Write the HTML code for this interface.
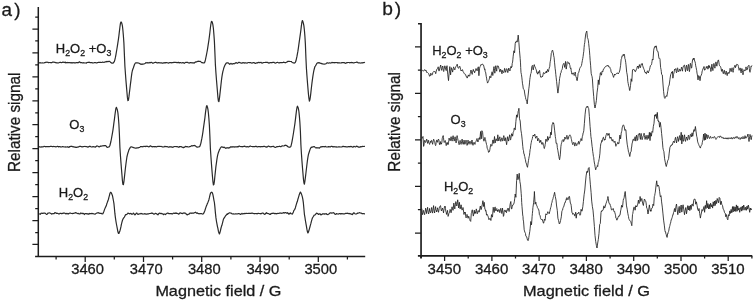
<!DOCTYPE html>
<html><head><meta charset="utf-8"><title>EPR spectra</title>
<style>html,body{margin:0;padding:0;background:#fff}svg{display:block}text{font-family:"Liberation Sans",Arial,sans-serif;fill:#1a1a1a;stroke:#1a1a1a;stroke-width:0.28px}</style></head><body>
<svg width="756" height="302" viewBox="0 0 756 302">
<rect width="756" height="302" fill="#fff"/>
<g stroke="#1c1c1c" stroke-width="1.5" fill="none">
<path d="M38.3 7 V257.2 M35.1 256.5 H365.2"/>
<path d="M32.4 29.0 H38.3 M32.4 52.9 H38.3 M32.4 76.8 H38.3 M32.4 100.8 H38.3 M32.4 124.7 H38.3 M32.4 148.7 H38.3 M32.4 172.6 H38.3 M32.4 196.6 H38.3 M32.4 220.5 H38.3 M32.4 244.4 H38.3 M35.2 17.0 H38.3 M35.2 40.9 H38.3 M35.2 64.9 H38.3 M35.2 88.8 H38.3 M35.2 112.8 H38.3 M35.2 136.7 H38.3 M35.2 160.6 H38.3 M35.2 184.6 H38.3 M35.2 208.5 H38.3 M35.2 232.5 H38.3 " stroke-width="1.25"/>
<path d="M85.2 256.5 V261.9 M143.5 256.5 V261.9 M201.7 256.5 V261.9 M260.0 256.5 V261.9 M318.3 256.5 V261.9 M56.1 256.5 V259.5 M114.3 256.5 V259.5 M172.6 256.5 V259.5 M230.9 256.5 V259.5 M289.2 256.5 V259.5 M347.4 256.5 V259.5 " stroke-width="1.25"/>
<path d="M421.05 22.9 V258.3 M417.9 255.9 H752.3 M418 23.7 H421.4" stroke-width="1.65"/>
<path d="M415 46.8 H421 M415 93.3 H421 M415 139.9 H421 M415 186.4 H421 M415 233.0 H421 M417.9 70.1 H421 M417.9 116.6 H421 M417.9 163.2 H421 M417.9 209.7 H421 " stroke-width="1.25"/>
<path d="M444.6 255.9 V260.9 M491.9 255.9 V260.9 M539.1 255.9 V260.9 M586.4 255.9 V260.9 M633.7 255.9 V260.9 M681.0 255.9 V260.9 M728.2 255.9 V260.9 M421.0 255.9 V258.5 M468.2 255.9 V258.5 M515.5 255.9 V258.5 M562.8 255.9 V258.5 M610.1 255.9 V258.5 M657.3 255.9 V258.5 M704.6 255.9 V258.5 M751.9 255.9 V258.5 " stroke-width="1.25"/>
</g>
<g stroke="#2a2a2a" stroke-width="1.2" fill="none" stroke-linejoin="round">
<path d="M38.9 62.8 L39.4 62.9 L39.9 62.7 L40.4 62.8 L40.9 62.9 L41.4 63.0 L41.9 63.0 L42.4 62.8 L42.9 63.0 L43.4 63.0 L43.9 63.0 L44.4 62.6 L44.9 62.6 L45.4 62.4 L45.9 62.4 L46.4 62.2 L46.9 62.0 L47.4 62.2 L47.9 62.4 L48.4 62.6 L48.9 62.6 L49.4 62.5 L49.9 62.5 L50.4 62.5 L50.9 62.8 L51.4 62.7 L51.9 62.6 L52.4 62.2 L52.9 62.2 L53.4 62.0 L53.9 62.1 L54.4 62.3 L54.9 62.3 L55.4 62.7 L55.9 62.5 L56.4 62.8 L56.9 62.8 L57.4 62.8 L57.9 63.0 L58.4 62.9 L58.9 62.7 L59.4 62.5 L59.9 62.4 L60.4 62.4 L60.9 62.4 L61.4 62.7 L61.9 62.5 L62.4 62.4 L62.9 62.1 L63.4 62.1 L63.9 62.5 L64.4 62.3 L64.9 62.6 L65.4 62.2 L65.9 62.8 L66.4 62.6 L66.9 62.8 L67.4 62.4 L67.9 62.7 L68.4 62.5 L68.9 62.7 L69.4 62.5 L69.9 62.6 L70.4 62.6 L70.9 63.0 L71.4 62.7 L71.9 62.8 L72.4 62.7 L72.9 63.0 L73.4 62.8 L73.9 62.6 L74.4 62.9 L74.9 62.9 L75.4 63.0 L75.9 62.7 L76.4 62.6 L76.9 62.6 L77.4 62.5 L77.9 62.9 L78.4 62.6 L78.9 62.2 L79.4 61.8 L79.9 62.1 L80.4 62.7 L80.9 62.7 L81.4 62.7 L81.9 62.7 L82.4 62.9 L82.9 62.8 L83.4 62.7 L83.9 62.9 L84.4 63.0 L84.9 62.9 L85.4 63.0 L85.9 63.0 L86.4 63.1 L86.9 62.5 L87.4 62.5 L87.9 62.4 L88.4 62.5 L88.9 62.2 L89.4 62.3 L89.9 62.6 L90.4 62.7 L90.9 62.6 L91.4 62.5 L91.9 62.6 L92.4 62.9 L92.9 63.0 L93.4 63.0 L93.9 62.8 L94.4 62.6 L94.9 62.5 L95.4 62.6 L95.9 62.8 L96.4 63.0 L96.9 62.9 L97.4 62.6 L97.9 62.5 L98.4 62.4 L98.9 62.4 L99.4 62.4 L99.9 62.4 L100.4 62.3 L100.9 62.4 L101.4 62.5 L101.9 62.5 L102.4 62.1 L102.9 62.0 L103.4 62.3 L103.9 62.5 L104.4 62.3 L104.9 61.9 L105.4 62.0 L105.9 61.7 L106.4 61.8 L106.9 61.4 L107.4 61.6 L107.9 61.5 L108.4 61.6 L108.9 61.3 L109.4 61.3 L109.9 61.5 L110.4 62.2 L110.9 62.6 L111.4 62.9 L111.9 63.1 L112.4 63.2 L112.9 63.2 L113.4 62.8 L113.9 62.2 L114.4 61.4 L114.9 59.6 L115.4 57.4 L115.9 54.8 L116.4 51.9 L116.9 49.0 L117.4 45.9 L117.9 42.7 L118.4 39.3 L118.9 35.6 L119.4 31.4 L119.9 27.3 L120.4 23.7 L120.9 22.0 L121.4 22.1 L121.9 23.6 L122.4 25.8 L122.9 30.3 L123.4 36.0 L123.9 43.1 L124.4 54.9 L124.9 66.2 L125.4 73.2 L125.9 80.0 L126.4 85.9 L126.9 91.8 L127.4 97.4 L127.9 100.6 L128.4 100.2 L128.9 96.9 L129.4 92.8 L129.9 88.7 L130.4 84.4 L130.9 80.7 L131.4 76.5 L131.9 72.9 L132.4 70.5 L132.9 69.0 L133.4 67.7 L133.9 66.2 L134.4 64.7 L134.9 63.8 L135.4 63.0 L135.9 62.8 L136.4 62.8 L136.9 62.8 L137.4 63.0 L137.9 62.9 L138.4 63.0 L138.9 63.2 L139.4 63.4 L139.9 63.8 L140.4 63.8 L140.9 64.3 L141.4 64.1 L141.9 64.4 L142.4 64.0 L142.9 64.3 L143.4 64.0 L143.9 64.0 L144.4 63.7 L144.9 63.5 L145.4 63.2 L145.9 62.6 L146.4 62.8 L146.9 62.8 L147.4 62.9 L147.9 62.6 L148.4 63.0 L148.9 62.8 L149.4 62.8 L149.9 62.4 L150.4 62.8 L150.9 62.4 L151.4 62.4 L151.9 62.5 L152.4 63.0 L152.9 63.3 L153.4 63.1 L153.9 62.8 L154.4 62.6 L154.9 62.5 L155.4 62.2 L155.9 62.4 L156.4 62.6 L156.9 62.8 L157.4 62.9 L157.9 62.7 L158.4 62.8 L158.9 62.6 L159.4 62.8 L159.9 62.8 L160.4 62.8 L160.9 62.8 L161.4 62.8 L161.9 63.1 L162.4 63.0 L162.9 63.1 L163.4 62.9 L163.9 62.9 L164.4 62.9 L164.9 62.6 L165.4 62.9 L165.9 62.6 L166.4 62.7 L166.9 62.5 L167.4 62.8 L167.9 63.0 L168.4 63.1 L168.9 62.9 L169.4 62.7 L169.9 62.6 L170.4 62.7 L170.9 62.7 L171.4 62.8 L171.9 62.7 L172.4 62.7 L172.9 62.7 L173.4 62.4 L173.9 62.4 L174.4 62.4 L174.9 62.4 L175.4 62.5 L175.9 62.3 L176.4 62.6 L176.9 62.5 L177.4 62.7 L177.9 62.4 L178.4 62.4 L178.9 62.6 L179.4 62.9 L179.9 62.6 L180.4 62.6 L180.9 62.7 L181.4 62.9 L181.9 63.0 L182.4 62.7 L182.9 62.7 L183.4 62.7 L183.9 63.1 L184.4 63.3 L184.9 62.9 L185.4 62.5 L185.9 62.3 L186.4 62.3 L186.9 62.5 L187.4 62.3 L187.9 62.6 L188.4 62.8 L188.9 63.1 L189.4 62.9 L189.9 62.8 L190.4 62.7 L190.9 62.7 L191.4 62.7 L191.9 62.9 L192.4 62.7 L192.9 62.9 L193.4 62.8 L193.9 63.1 L194.4 62.9 L194.9 62.6 L195.4 62.0 L195.9 61.8 L196.4 61.8 L196.9 61.8 L197.4 61.4 L197.9 61.4 L198.4 61.2 L198.9 61.3 L199.4 61.3 L199.9 61.5 L200.4 61.4 L200.9 61.9 L201.4 62.3 L201.9 62.7 L202.4 62.7 L202.9 62.8 L203.4 63.0 L203.9 62.9 L204.4 62.8 L204.9 61.9 L205.4 59.9 L205.9 57.5 L206.4 55.1 L206.9 52.5 L207.4 49.8 L207.9 46.6 L208.4 43.4 L208.9 40.1 L209.4 36.4 L209.9 32.3 L210.4 27.8 L210.9 24.0 L211.4 21.6 L211.9 21.4 L212.4 22.7 L212.9 24.8 L213.4 28.5 L213.9 34.5 L214.4 41.4 L214.9 52.8 L215.4 64.9 L215.9 72.5 L216.4 79.0 L216.9 85.0 L217.4 91.0 L217.9 97.1 L218.4 101.1 L218.9 101.6 L219.4 98.6 L219.9 94.4 L220.4 89.9 L220.9 85.2 L221.4 80.7 L221.9 76.8 L222.4 73.9 L222.9 71.4 L223.4 69.7 L223.9 67.7 L224.4 66.4 L224.9 65.2 L225.4 64.4 L225.9 63.6 L226.4 63.0 L226.9 62.8 L227.4 62.9 L227.9 62.8 L228.4 63.1 L228.9 63.5 L229.4 64.3 L229.9 64.0 L230.4 63.9 L230.9 63.3 L231.4 63.8 L231.9 63.9 L232.4 64.1 L232.9 63.8 L233.4 63.6 L233.9 63.8 L234.4 63.7 L234.9 63.5 L235.4 62.9 L235.9 62.8 L236.4 62.7 L236.9 63.0 L237.4 63.3 L237.9 63.0 L238.4 62.6 L238.9 62.3 L239.4 62.4 L239.9 62.7 L240.4 62.8 L240.9 63.0 L241.4 63.1 L241.9 63.2 L242.4 62.9 L242.9 62.6 L243.4 62.7 L243.9 62.9 L244.4 63.1 L244.9 62.8 L245.4 62.8 L245.9 62.9 L246.4 63.0 L246.9 63.1 L247.4 63.0 L247.9 62.6 L248.4 62.5 L248.9 62.5 L249.4 62.7 L249.9 62.7 L250.4 62.6 L250.9 62.7 L251.4 63.0 L251.9 63.1 L252.4 63.0 L252.9 62.7 L253.4 62.6 L253.9 62.6 L254.4 62.9 L254.9 63.1 L255.4 63.4 L255.9 63.2 L256.4 62.9 L256.9 62.9 L257.4 62.7 L257.9 62.8 L258.4 62.4 L258.9 62.4 L259.4 62.6 L259.9 62.7 L260.4 62.5 L260.9 62.3 L261.4 62.7 L261.9 63.2 L262.4 63.1 L262.9 62.8 L263.4 62.6 L263.9 62.5 L264.4 62.5 L264.9 62.5 L265.4 62.4 L265.9 62.3 L266.4 62.3 L266.9 62.4 L267.4 62.4 L267.9 62.5 L268.4 63.0 L268.9 63.1 L269.4 62.9 L269.9 62.7 L270.4 62.7 L270.9 62.6 L271.4 62.8 L271.9 62.6 L272.4 62.6 L272.9 62.3 L273.4 62.3 L273.9 62.4 L274.4 62.6 L274.9 63.0 L275.4 63.1 L275.9 63.0 L276.4 62.6 L276.9 62.5 L277.4 62.3 L277.9 62.5 L278.4 62.7 L278.9 62.9 L279.4 62.9 L279.9 62.6 L280.4 62.5 L280.9 62.6 L281.4 62.6 L281.9 62.5 L282.4 62.6 L282.9 62.5 L283.4 62.4 L283.9 62.1 L284.4 62.5 L284.9 62.6 L285.4 62.8 L285.9 62.5 L286.4 62.3 L286.9 62.1 L287.4 61.6 L287.9 61.4 L288.4 61.3 L288.9 61.3 L289.4 61.4 L289.9 61.5 L290.4 61.5 L290.9 61.5 L291.4 61.5 L291.9 62.1 L292.4 62.5 L292.9 62.7 L293.4 63.0 L293.9 62.9 L294.4 63.1 L294.9 62.8 L295.4 62.3 L295.9 61.1 L296.4 58.8 L296.9 56.7 L297.4 53.9 L297.9 51.2 L298.4 47.9 L298.9 44.2 L299.4 40.7 L299.9 37.2 L300.4 33.7 L300.9 29.8 L301.4 25.6 L301.9 22.1 L302.4 20.5 L302.9 21.6 L303.4 23.4 L303.9 25.9 L304.4 30.3 L304.9 36.3 L305.4 44.4 L305.9 57.5 L306.4 68.0 L306.9 75.2 L307.4 81.8 L307.9 87.7 L308.4 93.6 L308.9 98.2 L309.4 101.1 L309.9 99.7 L310.4 96.6 L310.9 92.4 L311.4 87.7 L311.9 83.5 L312.4 79.6 L312.9 76.2 L313.4 73.0 L313.9 70.4 L314.4 68.5 L314.9 66.7 L315.4 66.0 L315.9 65.1 L316.4 64.3 L316.9 63.4 L317.4 62.9 L317.9 63.0 L318.4 62.6 L318.9 62.9 L319.4 62.7 L319.9 63.2 L320.4 63.1 L320.9 63.5 L321.4 63.4 L321.9 63.9 L322.4 63.7 L322.9 64.0 L323.4 64.0 L323.9 64.2 L324.4 64.1 L324.9 64.0 L325.4 64.0 L325.9 63.7 L326.4 63.3 L326.9 62.8 L327.4 62.9 L327.9 62.9 L328.4 63.2 L328.9 63.0 L329.4 62.9 L329.9 62.8 L330.4 63.0 L330.9 63.1 L331.4 62.8 L331.9 62.4 L332.4 62.6 L332.9 62.6 L333.4 62.7 L333.9 62.7 L334.4 62.7 L334.9 62.8 L335.4 62.6 L335.9 62.5 L336.4 62.5 L336.9 62.7 L337.4 62.8 L337.9 62.7 L338.4 62.8 L338.9 62.8 L339.4 62.8 L339.9 62.9 L340.4 63.0 L340.9 63.0 L341.4 62.9 L341.9 62.6 L342.4 62.6 L342.9 62.6 L343.4 62.7 L343.9 62.5 L344.4 62.6 L344.9 63.1 L345.4 63.3 L345.9 63.2 L346.4 62.8 L346.9 62.7 L347.4 62.7 L347.9 62.5 L348.4 62.5 L348.9 62.5 L349.4 62.7 L349.9 62.8 L350.4 62.6 L350.9 62.6 L351.4 62.4 L351.9 62.7 L352.4 62.6 L352.9 62.8 L353.4 62.8 L353.9 62.9 L354.4 62.7 L354.9 62.5 L355.4 62.5 L355.9 62.5 L356.4 62.2 L356.9 62.1 L357.4 62.3 L357.9 62.7 L358.4 62.8 L358.9 62.8 L359.4 62.8 L359.9 63.0 L360.4 63.0 L360.9 63.1 L361.4 62.8 L361.9 62.9 L362.4 62.8 L362.9 63.0 L363.4 62.5 L363.9 62.5 L364.4 62.4 L364.9 62.7"/>
<path d="M38.9 146.9 L39.4 146.7 L39.9 146.9 L40.4 147.0 L40.9 147.2 L41.4 146.8 L41.9 146.9 L42.4 146.9 L42.9 146.9 L43.4 146.7 L43.9 146.4 L44.4 146.5 L44.9 146.4 L45.4 146.8 L45.9 146.6 L46.4 146.7 L46.9 146.6 L47.4 146.7 L47.9 146.6 L48.4 146.5 L48.9 146.6 L49.4 146.7 L49.9 146.5 L50.4 146.4 L50.9 146.3 L51.4 146.4 L51.9 146.5 L52.4 146.6 L52.9 146.7 L53.4 146.4 L53.9 146.5 L54.4 146.5 L54.9 146.7 L55.4 146.6 L55.9 147.0 L56.4 146.8 L56.9 146.5 L57.4 146.4 L57.9 146.4 L58.4 146.9 L58.9 146.6 L59.4 146.7 L59.9 146.6 L60.4 146.9 L60.9 147.0 L61.4 147.0 L61.9 146.8 L62.4 146.7 L62.9 146.6 L63.4 146.8 L63.9 147.0 L64.4 147.0 L64.9 146.9 L65.4 146.9 L65.9 147.1 L66.4 147.0 L66.9 146.9 L67.4 146.7 L67.9 147.1 L68.4 147.2 L68.9 147.3 L69.4 146.7 L69.9 146.8 L70.4 146.4 L70.9 146.4 L71.4 146.2 L71.9 146.4 L72.4 146.6 L72.9 146.8 L73.4 146.8 L73.9 146.7 L74.4 147.1 L74.9 147.1 L75.4 147.3 L75.9 147.2 L76.4 147.3 L76.9 147.3 L77.4 147.0 L77.9 147.1 L78.4 146.9 L78.9 146.7 L79.4 146.4 L79.9 146.3 L80.4 146.3 L80.9 146.4 L81.4 146.7 L81.9 146.8 L82.4 146.8 L82.9 146.7 L83.4 146.7 L83.9 146.5 L84.4 146.5 L84.9 146.4 L85.4 146.5 L85.9 146.6 L86.4 146.5 L86.9 146.7 L87.4 146.9 L87.9 147.1 L88.4 146.9 L88.9 146.6 L89.4 146.4 L89.9 146.2 L90.4 146.4 L90.9 146.7 L91.4 147.0 L91.9 147.0 L92.4 146.8 L92.9 146.7 L93.4 146.7 L93.9 146.8 L94.4 147.0 L94.9 146.9 L95.4 147.1 L95.9 146.6 L96.4 146.4 L96.9 145.9 L97.4 146.0 L97.9 146.2 L98.4 146.7 L98.9 146.7 L99.4 146.9 L99.9 146.4 L100.4 146.4 L100.9 145.9 L101.4 146.2 L101.9 146.0 L102.4 145.9 L102.9 145.7 L103.4 145.7 L103.9 145.9 L104.4 145.6 L104.9 145.6 L105.4 145.5 L105.9 145.8 L106.4 146.5 L106.9 147.1 L107.4 147.3 L107.9 147.3 L108.4 147.0 L108.9 147.0 L109.4 146.4 L109.9 145.5 L110.4 143.5 L110.9 141.5 L111.4 139.0 L111.9 136.2 L112.4 133.3 L112.9 130.3 L113.4 126.8 L113.9 122.9 L114.4 119.4 L114.9 115.3 L115.4 111.7 L115.9 108.4 L116.4 107.3 L116.9 108.6 L117.4 110.0 L117.9 112.9 L118.4 117.8 L118.9 124.5 L119.4 134.3 L119.9 147.2 L120.4 155.1 L120.9 161.9 L121.4 168.2 L121.9 174.2 L122.4 180.5 L122.9 184.3 L123.4 184.7 L123.9 181.6 L124.4 177.4 L124.9 172.7 L125.4 168.2 L125.9 164.2 L126.4 160.5 L126.9 157.0 L127.4 154.9 L127.9 153.0 L128.4 151.6 L128.9 149.9 L129.4 149.0 L129.9 148.1 L130.4 147.3 L130.9 146.9 L131.4 146.9 L131.9 147.0 L132.4 147.2 L132.9 147.3 L133.4 147.5 L133.9 147.8 L134.4 147.8 L134.9 148.0 L135.4 148.0 L135.9 148.3 L136.4 148.1 L136.9 147.8 L137.4 147.9 L137.9 147.8 L138.4 147.8 L138.9 147.5 L139.4 147.5 L139.9 147.1 L140.4 146.6 L140.9 146.5 L141.4 146.6 L141.9 146.7 L142.4 146.7 L142.9 146.8 L143.4 146.6 L143.9 146.3 L144.4 146.4 L144.9 146.5 L145.4 146.6 L145.9 146.1 L146.4 146.3 L146.9 146.3 L147.4 146.4 L147.9 146.4 L148.4 146.7 L148.9 146.9 L149.4 146.6 L149.9 146.1 L150.4 145.9 L150.9 146.1 L151.4 146.4 L151.9 146.7 L152.4 146.8 L152.9 146.7 L153.4 146.7 L153.9 146.6 L154.4 146.7 L154.9 146.8 L155.4 146.5 L155.9 146.8 L156.4 146.8 L156.9 146.7 L157.4 146.5 L157.9 146.3 L158.4 146.5 L158.9 146.4 L159.4 146.3 L159.9 146.5 L160.4 146.5 L160.9 146.3 L161.4 146.5 L161.9 146.7 L162.4 146.9 L162.9 146.8 L163.4 147.0 L163.9 146.9 L164.4 146.7 L164.9 146.3 L165.4 146.6 L165.9 146.7 L166.4 146.5 L166.9 146.6 L167.4 146.6 L167.9 147.0 L168.4 147.1 L168.9 147.1 L169.4 146.9 L169.9 146.7 L170.4 146.8 L170.9 146.9 L171.4 146.8 L171.9 147.2 L172.4 147.2 L172.9 147.3 L173.4 146.9 L173.9 146.8 L174.4 146.5 L174.9 146.5 L175.4 146.5 L175.9 146.6 L176.4 146.6 L176.9 146.5 L177.4 146.6 L177.9 147.0 L178.4 147.1 L178.9 147.3 L179.4 146.7 L179.9 146.6 L180.4 146.5 L180.9 146.7 L181.4 146.7 L181.9 147.1 L182.4 147.3 L182.9 147.6 L183.4 147.4 L183.9 147.6 L184.4 147.3 L184.9 146.8 L185.4 146.4 L185.9 146.6 L186.4 146.8 L186.9 146.6 L187.4 146.7 L187.9 146.9 L188.4 147.0 L188.9 146.9 L189.4 146.7 L189.9 146.6 L190.4 146.5 L190.9 146.2 L191.4 145.7 L191.9 145.9 L192.4 145.7 L192.9 145.9 L193.4 145.5 L193.9 145.6 L194.4 145.4 L194.9 145.7 L195.4 145.8 L195.9 146.3 L196.4 146.8 L196.9 146.9 L197.4 147.2 L197.9 147.0 L198.4 147.0 L198.9 147.0 L199.4 146.5 L199.9 146.3 L200.4 144.8 L200.9 143.1 L201.4 140.6 L201.9 138.2 L202.4 135.4 L202.9 132.2 L203.4 128.3 L203.9 124.9 L204.4 121.4 L204.9 117.8 L205.4 113.4 L205.9 109.6 L206.4 106.5 L206.9 105.6 L207.4 107.0 L207.9 109.1 L208.4 113.0 L208.9 118.7 L209.4 125.6 L209.9 136.6 L210.4 148.9 L210.9 156.3 L211.4 163.2 L211.9 169.6 L212.4 175.8 L212.9 181.3 L213.4 185.0 L213.9 184.3 L214.4 181.1 L214.9 176.0 L215.4 171.4 L215.9 166.6 L216.4 163.1 L216.9 159.4 L217.4 156.4 L217.9 154.1 L218.4 152.5 L218.9 151.2 L219.4 149.9 L219.9 149.0 L220.4 147.9 L220.9 147.4 L221.4 146.8 L221.9 146.9 L222.4 147.1 L222.9 147.3 L223.4 147.6 L223.9 147.2 L224.4 147.3 L224.9 147.7 L225.4 148.1 L225.9 148.4 L226.4 147.9 L226.9 147.9 L227.4 147.7 L227.9 148.0 L228.4 147.8 L228.9 148.2 L229.4 147.7 L229.9 147.7 L230.4 146.9 L230.9 146.9 L231.4 146.9 L231.9 147.1 L232.4 146.9 L232.9 146.7 L233.4 146.8 L233.9 147.0 L234.4 147.1 L234.9 146.7 L235.4 146.9 L235.9 146.9 L236.4 146.8 L236.9 146.8 L237.4 146.6 L237.9 147.0 L238.4 146.4 L238.9 146.4 L239.4 146.0 L239.9 146.4 L240.4 146.5 L240.9 146.7 L241.4 146.5 L241.9 146.7 L242.4 146.7 L242.9 146.8 L243.4 146.5 L243.9 146.3 L244.4 146.2 L244.9 146.3 L245.4 146.6 L245.9 146.8 L246.4 146.8 L246.9 146.7 L247.4 146.7 L247.9 146.8 L248.4 146.9 L248.9 146.8 L249.4 146.4 L249.9 146.3 L250.4 146.0 L250.9 146.3 L251.4 146.5 L251.9 146.5 L252.4 146.7 L252.9 146.5 L253.4 146.7 L253.9 146.5 L254.4 146.7 L254.9 146.6 L255.4 146.4 L255.9 146.3 L256.4 146.4 L256.9 146.8 L257.4 146.9 L257.9 146.7 L258.4 146.6 L258.9 146.6 L259.4 146.7 L259.9 146.7 L260.4 146.8 L260.9 146.7 L261.4 146.6 L261.9 146.7 L262.4 146.7 L262.9 146.7 L263.4 146.4 L263.9 146.4 L264.4 146.3 L264.9 146.5 L265.4 146.9 L265.9 146.9 L266.4 147.1 L266.9 146.9 L267.4 146.9 L267.9 146.3 L268.4 146.2 L268.9 146.2 L269.4 146.6 L269.9 146.6 L270.4 146.8 L270.9 146.8 L271.4 146.7 L271.9 146.6 L272.4 146.5 L272.9 146.4 L273.4 146.3 L273.9 146.7 L274.4 147.1 L274.9 147.2 L275.4 147.4 L275.9 147.2 L276.4 146.9 L276.9 146.5 L277.4 146.6 L277.9 146.8 L278.4 146.5 L278.9 146.5 L279.4 146.2 L279.9 146.5 L280.4 146.6 L280.9 146.6 L281.4 146.4 L281.9 146.0 L282.4 145.8 L282.9 146.0 L283.4 146.0 L283.9 146.0 L284.4 145.6 L284.9 145.4 L285.4 145.3 L285.9 145.2 L286.4 145.6 L286.9 145.7 L287.4 146.4 L287.9 146.6 L288.4 147.0 L288.9 147.1 L289.4 147.1 L289.9 147.3 L290.4 146.9 L290.9 146.3 L291.4 144.3 L291.9 142.1 L292.4 139.4 L292.9 136.5 L293.4 133.5 L293.9 130.2 L294.4 127.0 L294.9 123.6 L295.4 119.6 L295.9 115.4 L296.4 111.2 L296.9 108.0 L297.4 106.2 L297.9 107.0 L298.4 108.7 L298.9 111.5 L299.4 116.4 L299.9 122.8 L300.4 131.5 L300.9 144.8 L301.4 153.3 L301.9 160.4 L302.4 166.7 L302.9 172.7 L303.4 178.6 L303.9 182.8 L304.4 184.2 L304.9 181.1 L305.4 177.4 L305.9 173.3 L306.4 169.0 L306.9 164.7 L307.4 160.7 L307.9 157.4 L308.4 154.7 L308.9 153.0 L309.4 151.5 L309.9 149.9 L310.4 148.6 L310.9 147.7 L311.4 147.2 L311.9 147.3 L312.4 147.1 L312.9 146.9 L313.4 146.8 L313.9 146.6 L314.4 146.7 L314.9 147.1 L315.4 147.6 L315.9 148.0 L316.4 147.7 L316.9 147.8 L317.4 147.9 L317.9 147.7 L318.4 147.9 L318.9 147.9 L319.4 148.1 L319.9 147.6 L320.4 147.1 L320.9 146.8 L321.4 146.7 L321.9 146.9 L322.4 146.6 L322.9 146.6 L323.4 146.5 L323.9 146.7 L324.4 146.8 L324.9 146.6 L325.4 146.4 L325.9 146.7 L326.4 147.0 L326.9 147.0 L327.4 147.0 L327.9 146.8 L328.4 147.0 L328.9 146.5 L329.4 146.8 L329.9 146.8 L330.4 146.9 L330.9 146.6 L331.4 146.3 L331.9 146.4 L332.4 146.5 L332.9 147.0 L333.4 146.8 L333.9 146.7 L334.4 146.7 L334.9 146.9 L335.4 146.9 L335.9 146.9 L336.4 146.9 L336.9 147.1 L337.4 147.0 L337.9 147.0 L338.4 146.8 L338.9 146.8 L339.4 146.8 L339.9 146.9 L340.4 147.0 L340.9 147.0 L341.4 147.0 L341.9 147.0 L342.4 146.5 L342.9 146.3 L343.4 146.4 L343.9 146.6 L344.4 146.6 L344.9 146.6 L345.4 146.7 L345.9 146.8 L346.4 146.9 L346.9 146.9 L347.4 146.9 L347.9 146.8 L348.4 146.7 L348.9 146.6 L349.4 146.7 L349.9 146.8 L350.4 146.6 L350.9 146.4 L351.4 146.5 L351.9 146.8 L352.4 147.1 L352.9 147.1 L353.4 146.9 L353.9 146.3 L354.4 146.5 L354.9 146.7 L355.4 147.0 L355.9 146.7 L356.4 146.2 L356.9 146.3 L357.4 146.3 L357.9 146.9 L358.4 146.9 L358.9 147.3 L359.4 147.0 L359.9 147.1 L360.4 146.6 L360.9 146.9 L361.4 146.7 L361.9 146.7 L362.4 146.4 L362.9 146.3 L363.4 146.5 L363.9 146.5 L364.4 146.4 L364.9 146.3"/>
<path d="M38.9 213.7 L39.4 214.0 L39.9 214.0 L40.4 214.3 L40.9 213.4 L41.4 213.3 L41.9 213.1 L42.4 213.4 L42.9 213.4 L43.4 213.2 L43.9 213.1 L44.4 213.1 L44.9 213.1 L45.4 213.4 L45.9 213.9 L46.4 214.3 L46.9 214.4 L47.4 213.8 L47.9 213.2 L48.4 213.1 L48.9 213.0 L49.4 212.9 L49.9 213.0 L50.4 213.2 L50.9 213.5 L51.4 213.9 L51.9 214.1 L52.4 213.8 L52.9 213.6 L53.4 213.5 L53.9 213.7 L54.4 213.3 L54.9 212.6 L55.4 212.8 L55.9 212.9 L56.4 213.4 L56.9 213.2 L57.4 213.4 L57.9 213.4 L58.4 213.8 L58.9 213.8 L59.4 213.9 L59.9 213.4 L60.4 213.3 L60.9 213.4 L61.4 213.6 L61.9 213.7 L62.4 213.3 L62.9 213.4 L63.4 213.1 L63.9 213.2 L64.4 213.0 L64.9 213.3 L65.4 213.6 L65.9 213.9 L66.4 213.6 L66.9 213.4 L67.4 213.6 L67.9 213.9 L68.4 214.0 L68.9 213.5 L69.4 213.2 L69.9 213.0 L70.4 213.1 L70.9 213.3 L71.4 213.5 L71.9 213.5 L72.4 213.6 L72.9 213.4 L73.4 213.4 L73.9 213.3 L74.4 213.1 L74.9 213.0 L75.4 212.7 L75.9 212.7 L76.4 212.9 L76.9 213.2 L77.4 213.5 L77.9 213.6 L78.4 213.4 L78.9 213.7 L79.4 214.0 L79.9 214.0 L80.4 213.4 L80.9 212.9 L81.4 213.3 L81.9 213.6 L82.4 213.7 L82.9 213.1 L83.4 213.6 L83.9 213.8 L84.4 214.5 L84.9 213.7 L85.4 213.5 L85.9 213.6 L86.4 213.6 L86.9 213.9 L87.4 213.7 L87.9 214.1 L88.4 213.9 L88.9 214.2 L89.4 213.4 L89.9 213.7 L90.4 213.5 L90.9 213.7 L91.4 213.6 L91.9 213.4 L92.4 213.6 L92.9 213.5 L93.4 213.7 L93.9 213.9 L94.4 214.0 L94.9 214.2 L95.4 213.9 L95.9 213.6 L96.4 213.2 L96.9 213.0 L97.4 212.8 L97.9 212.8 L98.4 212.7 L98.9 213.1 L99.4 213.1 L99.9 213.4 L100.4 213.3 L100.9 213.4 L101.4 213.4 L101.9 213.9 L102.4 213.8 L102.9 213.7 L103.4 212.5 L103.9 211.4 L104.4 209.9 L104.9 208.6 L105.4 207.6 L105.9 206.6 L106.4 205.3 L106.9 203.4 L107.4 202.3 L107.9 200.8 L108.4 199.5 L108.9 197.3 L109.4 195.6 L109.9 193.5 L110.4 192.4 L110.9 192.3 L111.4 193.0 L111.9 194.2 L112.4 195.4 L112.9 197.8 L113.4 200.5 L113.9 203.3 L114.4 208.3 L114.9 213.7 L115.4 217.6 L115.9 221.0 L116.4 224.0 L116.9 226.5 L117.4 229.2 L117.9 231.8 L118.4 233.4 L118.9 233.5 L119.4 232.1 L119.9 230.9 L120.4 229.1 L120.9 226.9 L121.4 224.3 L121.9 222.4 L122.4 220.5 L122.9 219.3 L123.4 218.3 L123.9 217.6 L124.4 217.1 L124.9 216.0 L125.4 215.0 L125.9 214.5 L126.4 214.6 L126.9 214.3 L127.4 213.8 L127.9 213.2 L128.4 213.3 L128.9 213.3 L129.4 213.8 L129.9 213.7 L130.4 213.4 L130.9 213.5 L131.4 213.7 L131.9 214.4 L132.4 214.0 L132.9 214.0 L133.4 213.1 L133.9 213.7 L134.4 214.2 L134.9 214.9 L135.4 214.5 L135.9 213.7 L136.4 213.2 L136.9 213.1 L137.4 213.9 L137.9 214.4 L138.4 214.3 L138.9 213.9 L139.4 213.8 L139.9 214.0 L140.4 213.7 L140.9 213.4 L141.4 213.5 L141.9 213.8 L142.4 213.8 L142.9 214.1 L143.4 214.0 L143.9 214.0 L144.4 213.7 L144.9 213.8 L145.4 213.9 L145.9 214.1 L146.4 214.1 L146.9 214.2 L147.4 213.9 L147.9 213.8 L148.4 213.8 L148.9 213.8 L149.4 213.5 L149.9 213.5 L150.4 213.5 L150.9 213.3 L151.4 213.3 L151.9 212.9 L152.4 213.4 L152.9 213.3 L153.4 214.0 L153.9 214.1 L154.4 214.1 L154.9 213.7 L155.4 213.3 L155.9 213.5 L156.4 213.6 L156.9 214.0 L157.4 214.5 L157.9 214.8 L158.4 214.1 L158.9 213.5 L159.4 213.1 L159.9 213.3 L160.4 213.4 L160.9 213.6 L161.4 213.6 L161.9 213.4 L162.4 213.8 L162.9 214.1 L163.4 214.7 L163.9 214.0 L164.4 214.2 L164.9 214.1 L165.4 214.5 L165.9 214.0 L166.4 213.8 L166.9 213.3 L167.4 213.2 L167.9 213.1 L168.4 213.4 L168.9 213.6 L169.4 213.5 L169.9 213.6 L170.4 213.5 L170.9 213.6 L171.4 213.6 L171.9 213.9 L172.4 214.0 L172.9 213.6 L173.4 213.3 L173.9 213.1 L174.4 213.5 L174.9 213.2 L175.4 213.3 L175.9 212.8 L176.4 213.3 L176.9 213.2 L177.4 213.5 L177.9 213.6 L178.4 214.1 L178.9 213.9 L179.4 213.7 L179.9 212.9 L180.4 213.0 L180.9 212.9 L181.4 213.5 L181.9 213.5 L182.4 213.7 L182.9 213.2 L183.4 213.2 L183.9 212.9 L184.4 213.2 L184.9 212.9 L185.4 213.2 L185.9 213.5 L186.4 214.4 L186.9 214.7 L187.4 214.8 L187.9 214.3 L188.4 214.4 L188.9 214.0 L189.4 213.9 L189.9 213.1 L190.4 213.0 L190.9 213.1 L191.4 213.2 L191.9 213.3 L192.4 213.0 L192.9 213.2 L193.4 213.1 L193.9 213.1 L194.4 212.8 L194.9 212.6 L195.4 212.2 L195.9 212.7 L196.4 212.8 L196.9 213.4 L197.4 212.9 L197.9 213.4 L198.4 213.5 L198.9 213.9 L199.4 213.7 L199.9 213.7 L200.4 213.6 L200.9 213.6 L201.4 213.5 L201.9 213.7 L202.4 214.0 L202.9 214.1 L203.4 213.8 L203.9 212.9 L204.4 211.7 L204.9 210.5 L205.4 208.9 L205.9 207.4 L206.4 205.9 L206.9 204.8 L207.4 203.5 L207.9 202.4 L208.4 201.1 L208.9 199.7 L209.4 197.7 L209.9 195.4 L210.4 193.5 L210.9 192.6 L211.4 192.2 L211.9 192.4 L212.4 193.0 L212.9 194.6 L213.4 197.2 L213.9 200.1 L214.4 202.5 L214.9 207.1 L215.4 212.9 L215.9 217.4 L216.4 221.0 L216.9 223.6 L217.4 226.3 L217.9 228.3 L218.4 231.2 L218.9 232.7 L219.4 233.9 L219.9 232.7 L220.4 230.8 L220.9 228.5 L221.4 226.6 L221.9 225.3 L222.4 223.3 L222.9 221.3 L223.4 219.3 L223.9 218.4 L224.4 217.6 L224.9 216.9 L225.4 216.0 L225.9 215.3 L226.4 215.0 L226.9 214.1 L227.4 214.4 L227.9 213.7 L228.4 213.7 L228.9 213.0 L229.4 212.9 L229.9 212.9 L230.4 213.0 L230.9 213.1 L231.4 213.3 L231.9 213.7 L232.4 213.9 L232.9 214.0 L233.4 213.8 L233.9 214.1 L234.4 214.0 L234.9 214.0 L235.4 213.9 L235.9 213.9 L236.4 214.0 L236.9 213.9 L237.4 214.0 L237.9 213.8 L238.4 213.6 L238.9 213.6 L239.4 213.8 L239.9 214.1 L240.4 214.4 L240.9 214.1 L241.4 214.0 L241.9 213.3 L242.4 213.9 L242.9 213.9 L243.4 213.7 L243.9 213.6 L244.4 213.4 L244.9 213.7 L245.4 213.4 L245.9 213.5 L246.4 213.4 L246.9 213.3 L247.4 213.5 L247.9 213.5 L248.4 213.4 L248.9 213.3 L249.4 213.3 L249.9 213.4 L250.4 213.3 L250.9 213.3 L251.4 213.3 L251.9 213.0 L252.4 213.2 L252.9 213.3 L253.4 213.5 L253.9 213.6 L254.4 213.6 L254.9 213.8 L255.4 213.5 L255.9 213.5 L256.4 213.6 L256.9 213.8 L257.4 213.7 L257.9 213.4 L258.4 213.3 L258.9 213.5 L259.4 213.5 L259.9 213.6 L260.4 213.6 L260.9 213.9 L261.4 213.6 L261.9 213.3 L262.4 213.0 L262.9 213.0 L263.4 213.3 L263.9 213.8 L264.4 214.3 L264.9 214.5 L265.4 213.5 L265.9 213.2 L266.4 212.6 L266.9 213.3 L267.4 213.3 L267.9 213.6 L268.4 213.5 L268.9 213.7 L269.4 214.2 L269.9 214.4 L270.4 214.4 L270.9 213.7 L271.4 213.6 L271.9 213.4 L272.4 213.5 L272.9 213.2 L273.4 213.1 L273.9 213.5 L274.4 213.6 L274.9 213.4 L275.4 213.6 L275.9 213.6 L276.4 213.7 L276.9 213.8 L277.4 213.4 L277.9 213.5 L278.4 213.4 L278.9 213.5 L279.4 213.3 L279.9 212.9 L280.4 213.0 L280.9 213.3 L281.4 213.3 L281.9 213.1 L282.4 213.1 L282.9 213.0 L283.4 212.7 L283.9 212.7 L284.4 213.1 L284.9 212.7 L285.4 212.6 L285.9 212.6 L286.4 213.0 L286.9 213.3 L287.4 212.7 L287.9 213.2 L288.4 213.4 L288.9 214.3 L289.4 213.6 L289.9 213.4 L290.4 212.9 L290.9 213.6 L291.4 213.8 L291.9 214.0 L292.4 214.1 L292.9 213.0 L293.4 211.9 L293.9 210.4 L294.4 209.8 L294.9 209.1 L295.4 207.7 L295.9 205.9 L296.4 204.2 L296.9 202.5 L297.4 201.3 L297.9 199.2 L298.4 197.6 L298.9 195.9 L299.4 194.3 L299.9 193.1 L300.4 192.1 L300.9 192.8 L301.4 193.9 L301.9 195.4 L302.4 197.1 L302.9 199.6 L303.4 203.2 L303.9 208.7 L304.4 214.3 L304.9 217.2 L305.4 220.5 L305.9 223.3 L306.4 226.1 L306.9 229.2 L307.4 231.7 L307.9 233.0 L308.4 232.2 L308.9 230.5 L309.4 228.8 L309.9 227.0 L310.4 225.1 L310.9 223.4 L311.4 221.3 L311.9 219.6 L312.4 218.0 L312.9 217.2 L313.4 216.5 L313.9 215.6 L314.4 215.0 L314.9 215.0 L315.4 214.6 L315.9 213.9 L316.4 213.3 L316.9 213.1 L317.4 213.6 L317.9 213.7 L318.4 214.4 L318.9 214.3 L319.4 213.8 L319.9 213.9 L320.4 214.1 L320.9 214.9 L321.4 214.6 L321.9 214.4 L322.4 214.1 L322.9 213.7 L323.4 214.0 L323.9 213.9 L324.4 214.1 L324.9 213.9 L325.4 213.8 L325.9 214.0 L326.4 213.7 L326.9 214.4 L327.4 214.5 L327.9 214.7 L328.4 214.2 L328.9 213.9 L329.4 213.6 L329.9 213.0 L330.4 212.9 L330.9 212.8 L331.4 213.1 L331.9 213.2 L332.4 213.0 L332.9 212.8 L333.4 212.6 L333.9 213.0 L334.4 213.5 L334.9 214.2 L335.4 214.3 L335.9 214.2 L336.4 213.6 L336.9 213.7 L337.4 214.0 L337.9 214.0 L338.4 214.1 L338.9 213.7 L339.4 213.5 L339.9 213.6 L340.4 213.6 L340.9 214.1 L341.4 213.6 L341.9 213.7 L342.4 213.7 L342.9 213.9 L343.4 213.8 L343.9 213.8 L344.4 214.0 L344.9 213.8 L345.4 213.3 L345.9 213.3 L346.4 213.4 L346.9 213.4 L347.4 213.3 L347.9 213.2 L348.4 213.6 L348.9 213.5 L349.4 213.8 L349.9 213.4 L350.4 213.9 L350.9 213.8 L351.4 214.2 L351.9 214.3 L352.4 214.6 L352.9 213.8 L353.4 213.1 L353.9 212.8 L354.4 213.2 L354.9 213.7 L355.4 214.0 L355.9 214.0 L356.4 213.9 L356.9 213.7 L357.4 213.1 L357.9 213.4 L358.4 213.0 L358.9 213.0 L359.4 212.6 L359.9 212.8 L360.4 213.0 L360.9 213.1 L361.4 213.2 L361.9 213.6 L362.4 213.8 L362.9 213.6 L363.4 213.5 L363.9 213.7 L364.4 213.8 L364.9 213.7"/>
</g>
<g stroke="#202020" stroke-width="0.85" fill="none" stroke-linejoin="round">
<path d="M421.7 70.6 L422.2 70.2 L422.7 70.7 L423.3 71.2 L423.9 70.3 L424.4 70.0 L425.0 69.7 L425.5 71.0 L426.1 70.4 L426.6 72.4 L427.2 72.4 L427.7 72.6 L428.3 73.2 L428.7 73.7 L429.2 75.2 L429.6 76.3 L430.0 75.3 L430.4 75.7 L430.8 73.2 L431.1 74.0 L431.5 74.5 L431.9 75.2 L432.4 74.7 L432.8 72.6 L433.2 72.2 L433.7 71.5 L434.1 71.8 L434.6 71.1 L435.0 71.6 L435.3 72.2 L435.7 73.7 L436.2 71.7 L436.6 69.7 L437.1 68.8 L437.4 68.8 L437.8 68.3 L438.2 66.8 L438.5 69.8 L438.8 69.5 L439.0 71.1 L439.6 69.0 L440.1 67.0 L440.7 65.0 L441.0 67.0 L441.2 68.5 L441.5 70.3 L441.9 69.3 L442.3 67.3 L442.7 66.0 L443.0 67.0 L443.3 70.6 L443.7 71.5 L444.1 69.4 L444.4 68.5 L444.8 65.8 L445.3 67.2 L445.7 69.1 L446.2 70.6 L446.4 68.0 L446.7 66.8 L447.0 65.7 L447.3 69.0 L447.5 72.1 L447.8 74.8 L448.5 80.6 L449.1 73.5 L449.8 66.6 L450.1 69.1 L450.3 72.1 L450.6 74.8 L450.9 71.4 L451.2 70.2 L451.5 67.7 L451.8 68.8 L452.2 70.0 L452.6 72.1 L452.9 70.6 L453.3 68.5 L453.6 67.0 L454.0 67.4 L454.4 68.7 L454.8 69.9 L455.2 68.5 L455.6 67.3 L456.1 66.2 L456.5 65.6 L456.9 64.6 L457.3 64.2 L457.6 66.1 L458.0 67.8 L458.4 68.3 L458.8 68.1 L459.3 66.6 L459.7 66.1 L460.2 67.3 L460.6 69.6 L461.1 71.0 L461.5 70.4 L461.9 70.9 L462.4 69.6 L462.8 70.6 L463.1 71.7 L463.5 72.4 L463.9 72.6 L464.3 73.6 L464.7 74.1 L465.1 74.1 L465.6 74.5 L466.0 76.0 L466.4 76.8 L466.8 76.7 L467.2 78.1 L467.6 76.6 L468.0 76.5 L468.3 74.9 L468.8 76.2 L469.2 75.7 L469.7 76.1 L470.1 73.8 L470.5 72.5 L471.0 70.0 L471.4 72.0 L471.8 73.2 L472.2 74.4 L472.5 72.2 L472.9 70.8 L473.3 69.4 L473.7 71.1 L474.2 71.0 L474.6 72.8 L475.1 71.4 L475.5 70.7 L476.0 68.5 L476.3 69.8 L476.7 69.6 L477.1 70.8 L477.5 69.3 L477.9 68.0 L478.3 66.8 L478.9 75.7 L479.6 68.2 L480.0 66.5 L480.4 66.2 L480.8 65.1 L481.2 64.4 L481.6 65.1 L482.1 64.6 L482.5 64.0 L483.0 64.4 L483.4 64.9 L483.8 66.1 L484.2 68.0 L484.6 69.5 L484.9 68.9 L485.2 71.8 L485.6 72.1 L485.9 74.0 L486.2 76.2 L486.6 78.1 L486.9 80.5 L487.2 81.4 L487.5 83.1 L487.9 82.5 L488.3 81.6 L488.7 80.6 L489.1 79.7 L489.5 78.1 L489.9 76.2 L490.2 77.4 L490.5 77.1 L490.9 77.7 L491.2 75.1 L491.6 74.0 L492.0 71.8 L492.3 72.4 L492.6 74.2 L492.8 75.5 L493.2 72.3 L493.6 68.3 L494.0 66.6 L494.3 68.5 L494.6 70.3 L494.8 73.2 L495.2 69.9 L495.5 67.2 L495.8 65.7 L496.1 67.8 L496.4 69.7 L496.7 71.2 L496.9 68.8 L497.2 67.1 L497.5 65.9 L497.9 65.7 L498.2 65.9 L498.6 66.9 L499.0 68.9 L499.4 69.6 L499.8 71.9 L500.1 71.7 L500.5 69.1 L500.8 69.8 L501.2 70.0 L501.6 72.9 L502.0 73.8 L502.2 72.5 L502.5 70.4 L502.8 70.6 L503.2 72.5 L503.5 72.4 L503.9 72.7 L504.2 71.5 L504.5 68.4 L504.8 68.5 L505.1 70.3 L505.3 71.0 L505.6 72.3 L506.0 71.0 L506.3 69.7 L506.6 68.7 L507.0 68.9 L507.4 70.5 L507.8 72.6 L508.1 71.3 L508.4 70.1 L508.8 68.0 L509.2 69.3 L509.5 70.2 L509.9 71.0 L510.3 69.6 L510.6 68.3 L510.9 66.5 L511.3 67.9 L511.6 66.8 L511.9 67.0 L512.2 63.5 L512.6 62.1 L512.9 59.2 L513.2 56.2 L513.6 53.0 L513.9 50.8 L514.6 52.8 L515.2 43.6 L515.6 42.0 L515.9 42.4 L516.2 41.1 L516.6 41.0 L516.9 41.6 L517.2 42.1 L517.5 39.3 L517.9 38.1 L518.2 35.1 L518.9 42.6 L519.5 50.8 L520.2 58.6 L520.5 62.9 L520.7 67.5 L521.0 72.6 L521.4 74.3 L521.8 77.1 L522.2 80.7 L522.5 83.8 L522.8 85.0 L523.2 88.1 L523.5 89.2 L523.8 89.5 L524.2 89.8 L524.5 92.0 L524.8 94.0 L525.2 96.1 L525.5 97.3 L525.8 99.2 L526.2 99.7 L526.5 101.2 L526.8 101.6 L527.2 103.9 L527.8 98.1 L528.5 92.0 L528.8 88.8 L529.1 86.9 L529.5 82.9 L529.8 79.5 L530.1 77.6 L530.5 74.9 L530.7 73.8 L531.0 73.5 L531.3 71.8 L531.8 66.6 L532.4 65.4 L532.7 66.3 L533.0 69.2 L533.3 69.9 L533.5 67.6 L533.8 66.6 L534.0 64.8 L534.3 64.7 L534.6 66.1 L534.9 66.6 L535.6 68.4 L535.9 69.2 L536.3 69.8 L536.6 71.9 L536.9 72.9 L537.2 72.8 L537.6 74.1 L537.9 74.1 L538.2 71.7 L538.6 72.8 L538.9 72.9 L539.2 71.2 L539.6 70.4 L540.0 73.7 L540.3 75.3 L540.7 77.2 L541.1 77.2 L541.4 77.1 L541.7 77.2 L542.0 76.6 L542.4 77.0 L542.7 76.1 L543.0 74.9 L543.4 72.9 L543.7 72.4 L544.0 72.8 L544.4 73.7 L544.7 73.7 L545.1 73.2 L545.5 72.7 L545.9 71.8 L546.1 72.5 L546.4 71.0 L546.7 72.7 L547.0 71.8 L547.2 71.5 L547.5 69.5 L547.8 70.5 L548.2 70.7 L548.5 71.6 L548.8 69.5 L549.2 68.3 L549.5 67.0 L549.8 66.3 L550.0 63.1 L550.3 61.3 L550.7 59.1 L551.0 56.1 L551.3 53.3 L551.7 52.8 L552.0 50.8 L552.3 50.5 L552.6 50.1 L553.0 51.7 L553.3 52.5 L553.7 55.8 L554.1 57.4 L554.5 62.2 L554.8 65.0 L555.1 68.2 L555.5 71.1 L555.8 74.5 L556.2 77.8 L556.6 81.5 L557.3 88.1 L557.9 93.1 L558.6 88.1 L559.3 81.7 L559.6 78.5 L559.9 77.0 L560.3 75.3 L560.6 73.1 L561.0 72.7 L561.4 70.6 L561.8 70.0 L562.1 69.4 L562.4 68.3 L562.7 65.8 L563.1 64.6 L563.4 63.8 L563.9 63.3 L564.2 64.8 L564.5 66.0 L564.7 67.4 L565.0 66.1 L565.3 63.1 L565.6 61.4 L566.2 69.1 L566.6 66.5 L566.9 65.1 L567.2 62.4 L567.5 61.8 L567.9 62.0 L568.2 62.2 L568.5 63.2 L568.9 63.6 L569.2 62.9 L569.5 64.3 L569.9 65.4 L570.2 67.9 L570.5 68.5 L570.9 67.9 L571.2 70.6 L571.5 72.3 L571.8 74.1 L572.2 74.4 L572.5 74.1 L572.8 72.9 L573.2 72.8 L573.5 73.1 L573.8 74.4 L574.2 75.5 L574.5 74.5 L574.8 73.8 L575.2 72.0 L575.5 74.4 L575.8 76.4 L576.2 76.9 L576.5 78.5 L576.8 80.2 L577.2 80.7 L577.8 76.4 L578.1 73.5 L578.5 72.9 L578.8 72.1 L579.2 70.8 L579.7 68.6 L580.1 67.7 L580.5 67.1 L580.8 66.9 L581.1 66.3 L581.5 65.4 L581.8 63.6 L582.1 62.0 L582.4 60.4 L582.8 58.3 L583.1 56.5 L583.4 53.9 L583.8 51.3 L584.1 47.4 L584.4 44.5 L584.8 42.3 L585.1 39.2 L585.8 33.5 L586.1 32.8 L586.4 31.8 L586.8 31.0 L587.4 37.6 L587.7 38.2 L588.1 39.4 L588.4 40.9 L588.7 43.7 L589.1 47.3 L589.4 50.1 L589.8 55.4 L590.2 60.6 L590.6 65.2 L591.2 73.4 L591.6 75.2 L592.0 76.4 L592.4 78.9 L593.0 88.3 L593.7 96.4 L594.4 104.7 L595.0 108.0 L595.7 104.7 L596.4 100.4 L597.0 92.9 L597.7 87.8 L598.3 79.9 L599.0 84.6 L599.7 77.1 L600.0 75.8 L600.3 72.9 L600.7 72.5 L600.9 73.9 L601.2 75.2 L601.5 75.0 L602.0 71.5 L602.3 71.0 L602.5 71.4 L602.8 71.8 L603.2 69.5 L603.6 69.5 L604.0 68.5 L604.4 67.7 L604.8 67.5 L605.3 66.7 L605.7 66.7 L606.2 66.0 L606.6 65.7 L607.0 66.2 L607.4 65.8 L607.8 65.0 L608.2 65.5 L608.6 66.8 L609.0 67.0 L609.4 66.9 L609.8 67.1 L610.3 68.7 L610.7 69.3 L611.2 72.4 L611.6 72.6 L612.1 72.9 L612.5 73.9 L612.9 75.4 L613.6 77.4 L613.9 76.2 L614.3 75.1 L614.6 74.0 L614.9 74.7 L615.3 75.1 L615.6 74.5 L616.0 74.0 L616.5 73.4 L616.9 73.2 L617.4 73.0 L617.8 73.2 L618.2 74.0 L618.6 73.0 L618.9 72.7 L619.2 72.4 L619.6 71.0 L619.9 70.0 L620.2 68.0 L620.6 65.4 L620.9 62.0 L621.2 59.1 L621.6 58.5 L621.9 56.4 L622.2 55.8 L622.5 56.3 L622.9 55.4 L623.2 54.5 L623.5 55.5 L623.9 54.4 L624.2 54.1 L624.5 55.1 L624.9 58.6 L625.2 59.1 L625.5 60.9 L625.7 62.3 L626.0 64.8 L626.7 72.3 L627.1 74.1 L627.5 77.1 L627.8 81.5 L628.2 83.4 L628.5 85.2 L628.8 86.5 L629.2 87.6 L629.5 90.3 L629.8 90.6 L630.5 85.6 L631.2 78.8 L631.8 81.4 L632.5 69.9 L632.8 69.7 L633.1 70.0 L633.5 69.4 L633.8 69.2 L634.1 69.7 L634.5 70.6 L634.8 70.3 L635.1 71.7 L635.5 71.6 L635.8 70.9 L636.1 70.0 L636.5 69.2 L636.8 68.4 L637.1 67.2 L637.5 66.2 L637.8 67.1 L638.1 66.0 L638.4 68.5 L638.8 67.6 L639.1 66.3 L639.4 64.6 L639.8 66.3 L640.1 66.7 L640.4 67.7 L640.8 66.0 L641.1 64.5 L641.4 63.9 L641.8 64.5 L642.1 63.4 L642.4 63.8 L642.7 65.8 L643.1 66.9 L643.4 68.2 L643.7 68.3 L644.1 69.6 L644.4 70.1 L644.7 71.9 L645.1 72.2 L645.4 73.0 L645.7 72.3 L646.1 73.6 L646.4 73.8 L646.7 72.6 L647.0 72.0 L647.4 70.8 L647.7 71.5 L648.0 72.6 L648.4 73.0 L648.7 71.6 L649.0 71.0 L649.4 69.8 L649.7 69.1 L650.0 67.4 L650.4 65.7 L650.7 65.6 L651.0 65.3 L651.4 64.8 L651.7 63.5 L652.0 61.6 L652.4 59.0 L653.0 59.9 L653.7 50.2 L654.3 47.5 L654.7 47.8 L655.0 46.3 L655.3 47.2 L655.7 46.0 L656.0 45.9 L656.3 45.9 L657.0 50.6 L657.3 51.1 L657.6 50.9 L658.0 52.0 L658.3 53.1 L658.6 56.1 L659.0 58.3 L659.3 58.0 L659.6 58.3 L660.0 59.3 L660.6 67.5 L661.0 69.3 L661.3 71.4 L661.6 74.4 L662.3 74.9 L662.9 83.0 L663.6 91.5 L664.3 97.3 L664.9 98.4 L665.3 97.7 L665.6 97.3 L665.9 96.0 L666.3 95.9 L666.6 95.7 L666.9 96.4 L667.6 91.7 L667.9 90.3 L668.2 87.7 L668.6 86.3 L669.2 85.0 L669.9 79.7 L670.6 75.0 L670.8 74.3 L671.1 73.6 L671.4 73.2 L671.7 72.2 L672.0 73.1 L672.4 71.3 L672.9 78.2 L673.5 74.4 L673.9 73.1 L674.2 71.8 L674.5 69.4 L674.9 70.0 L675.2 69.1 L675.5 68.7 L675.9 68.9 L676.2 71.8 L676.5 72.8 L676.9 71.6 L677.2 68.6 L677.5 67.8 L677.8 68.7 L678.2 71.3 L678.5 72.0 L678.8 71.5 L679.2 70.8 L679.5 69.2 L679.8 69.3 L680.2 70.9 L680.5 71.1 L680.8 69.7 L681.2 68.8 L681.5 67.1 L681.8 67.6 L682.1 69.7 L682.5 71.2 L682.8 68.2 L683.1 67.3 L683.5 66.1 L683.8 65.5 L684.1 65.3 L684.5 65.1 L684.8 66.9 L685.1 69.0 L685.5 71.6 L685.8 69.8 L686.1 67.2 L686.5 65.2 L686.8 66.2 L687.1 69.1 L687.5 70.7 L687.8 69.4 L688.1 66.4 L688.4 64.4 L688.8 66.0 L689.1 69.8 L689.4 71.6 L689.8 69.2 L690.1 64.8 L690.4 63.3 L690.8 64.9 L691.1 66.3 L691.4 68.2 L691.8 67.3 L692.1 63.4 L692.4 61.0 L692.7 59.3 L693.1 59.6 L693.4 58.3 L693.7 59.5 L694.1 58.2 L694.4 59.9 L694.7 61.0 L695.1 62.0 L695.4 63.4 L695.7 65.8 L696.1 67.4 L696.4 69.1 L696.7 70.5 L697.0 73.1 L697.4 74.9 L698.0 79.9 L698.7 75.6 L699.4 76.5 L700.0 80.7 L700.7 76.1 L701.3 75.1 L701.8 73.5 L702.2 70.9 L702.6 70.2 L703.1 68.3 L703.5 68.3 L704.0 66.5 L704.3 68.2 L704.6 70.2 L705.0 70.0 L705.3 69.4 L705.6 69.2 L706.0 68.2 L706.3 66.7 L706.6 67.7 L707.0 66.3 L707.3 66.5 L707.6 67.7 L707.9 69.2 L708.3 68.1 L708.6 66.0 L708.9 65.2 L709.3 67.6 L709.6 66.1 L709.9 67.2 L710.3 67.7 L710.6 69.8 L710.9 71.5 L711.3 69.6 L711.6 66.1 L711.9 64.2 L712.2 66.9 L712.6 69.1 L712.9 70.6 L713.2 67.1 L713.6 66.2 L713.9 63.4 L714.2 65.0 L714.6 66.6 L714.9 68.2 L715.2 66.3 L715.6 64.4 L715.9 61.9 L716.2 63.0 L716.5 65.0 L716.9 66.2 L717.2 64.0 L717.5 63.3 L717.9 60.7 L718.5 59.9 L718.9 62.2 L719.2 64.3 L719.5 65.7 L719.9 65.9 L720.2 66.3 L720.5 66.5 L720.9 67.8 L721.2 69.0 L721.5 71.3 L721.9 71.0 L722.2 69.1 L722.5 69.8 L723.2 73.7 L723.5 73.5 L723.8 71.7 L724.2 70.3 L724.5 70.4 L724.8 73.3 L725.2 74.4 L725.5 74.2 L725.8 73.0 L726.2 71.1 L726.5 72.4 L726.8 74.2 L727.2 75.6 L727.5 73.3 L727.8 73.7 L728.1 72.3 L728.5 73.2 L728.8 73.4 L729.1 73.5 L729.5 71.9 L729.8 70.1 L730.1 68.3 L730.5 69.8 L730.8 69.9 L731.1 71.7 L731.5 69.3 L731.8 68.6 L732.1 67.8 L732.4 70.5 L732.8 71.5 L733.1 72.3 L733.4 70.6 L733.8 67.8 L734.1 67.2 L734.4 66.8 L734.8 65.4 L735.1 65.3 L735.4 67.7 L735.8 66.3 L736.1 66.3 L736.4 65.0 L736.7 64.3 L737.1 64.4 L737.4 64.5 L737.7 64.5 L738.1 65.2 L738.4 66.5 L738.7 68.0 L739.1 70.3 L739.4 69.6 L739.7 69.4 L740.1 67.9 L740.4 69.1 L740.7 71.3 L741.1 72.9 L741.4 71.5 L741.7 68.7 L742.1 68.6 L742.4 70.5 L742.7 72.6 L743.0 74.8 L743.4 72.3 L743.7 71.2 L744.0 69.7 L744.4 70.3 L744.7 70.0 L745.0 70.9 L745.4 69.6 L745.7 68.8 L746.0 66.9 L746.4 68.5 L746.7 69.9 L747.0 70.1 L747.3 69.5 L747.7 67.5 L748.0 66.1 L748.3 65.8 L748.7 65.4 L749.0 65.2 L749.3 68.5 L749.7 71.5 L750.0 72.3 L750.3 70.0 L750.7 69.4 L751.0 66.4 L751.3 66.8 L751.6 65.9 L752.0 65.4"/>
<path d="M422.0 138.7 L422.3 137.2 L422.6 137.4 L423.0 136.5 L423.6 146.4 L424.0 145.0 L424.3 142.2 L424.6 140.5 L425.0 140.3 L425.3 141.8 L425.6 142.5 L426.0 141.7 L426.3 140.9 L426.6 139.1 L427.0 139.8 L427.3 141.2 L427.6 143.4 L427.9 142.8 L428.3 141.7 L428.6 140.3 L428.9 142.6 L429.3 143.6 L429.6 144.4 L429.9 143.3 L430.3 142.2 L430.6 141.3 L430.9 142.5 L431.3 140.5 L431.6 140.3 L431.9 141.2 L432.2 142.3 L432.6 144.3 L432.9 142.7 L433.2 141.0 L433.6 139.2 L433.9 139.7 L434.2 140.5 L434.6 141.3 L434.9 142.9 L435.2 144.5 L435.6 145.6 L435.9 144.5 L436.2 142.2 L436.6 140.3 L436.9 139.9 L437.2 142.0 L437.5 142.3 L437.9 140.4 L438.2 140.1 L438.5 139.1 L438.9 140.0 L439.2 142.7 L439.5 144.6 L439.9 143.1 L440.2 142.8 L440.5 141.6 L440.9 144.4 L441.2 143.1 L441.5 143.9 L441.9 142.2 L442.2 138.7 L442.5 137.3 L443.2 135.6 L443.5 137.7 L443.8 140.6 L444.2 142.5 L444.5 141.8 L444.8 141.4 L445.2 140.5 L445.5 142.2 L445.8 143.2 L446.2 145.6 L446.5 144.8 L446.8 142.9 L447.2 142.3 L447.5 144.2 L447.8 143.5 L448.1 144.6 L448.5 142.9 L448.8 140.3 L449.1 138.1 L449.5 139.6 L449.8 139.5 L450.1 140.8 L450.5 140.0 L450.8 138.0 L451.1 136.7 L451.5 138.9 L451.8 140.0 L452.1 141.1 L452.4 139.4 L452.8 137.1 L453.1 135.7 L453.4 138.0 L453.8 139.6 L454.1 141.1 L454.4 140.7 L454.8 138.1 L455.1 136.8 L455.4 139.2 L455.8 141.1 L456.1 142.9 L456.4 140.7 L456.7 138.2 L457.1 135.6 L457.4 137.4 L457.7 138.5 L458.1 140.6 L458.4 141.3 L458.7 143.1 L459.1 144.7 L459.4 143.7 L459.7 142.8 L460.1 140.4 L460.4 142.3 L460.7 143.7 L461.1 144.4 L461.4 143.1 L461.7 141.3 L462.1 139.1 L462.4 141.0 L462.7 143.1 L463.0 144.4 L463.4 144.1 L463.7 141.4 L464.0 140.1 L464.4 141.1 L464.7 144.1 L465.0 144.4 L465.4 143.1 L465.7 142.1 L466.0 140.1 L466.4 142.4 L466.7 142.9 L467.0 145.4 L467.3 145.1 L467.7 142.9 L468.0 140.1 L468.3 141.6 L468.7 143.3 L469.0 144.3 L469.3 143.3 L469.7 141.6 L470.0 141.1 L470.3 142.1 L470.7 143.4 L471.0 144.3 L471.3 143.5 L471.6 141.9 L472.0 140.0 L472.3 141.8 L472.6 144.3 L473.0 145.3 L473.3 143.8 L473.6 143.8 L474.0 142.3 L474.3 143.6 L474.6 143.5 L475.0 144.4 L475.3 142.3 L475.6 141.9 L476.0 141.4 L476.3 140.6 L476.6 139.8 L477.0 138.5 L477.3 140.6 L477.6 140.2 L477.9 142.0 L478.3 140.7 L478.6 139.8 L478.9 138.1 L479.3 138.4 L479.6 137.6 L479.9 139.5 L480.6 131.5 L481.3 138.8 L481.9 130.7 L482.6 132.3 L483.2 138.3 L483.9 141.2 L484.2 140.4 L484.6 140.1 L484.9 137.4 L485.2 139.5 L485.6 139.8 L485.9 141.9 L486.2 142.9 L486.5 144.5 L486.9 145.6 L487.2 148.5 L487.5 148.7 L487.9 149.7 L488.2 150.6 L488.5 152.3 L488.9 152.2 L489.2 151.2 L489.5 151.5 L489.9 149.4 L490.2 147.3 L490.5 145.8 L490.9 144.3 L491.2 145.3 L491.5 146.2 L491.9 145.8 L492.2 144.3 L492.5 142.1 L492.8 140.0 L493.2 140.0 L493.5 141.8 L493.8 143.4 L494.5 136.5 L495.2 142.9 L495.5 141.2 L495.8 139.9 L496.2 138.8 L496.5 139.9 L496.8 140.1 L497.2 141.1 L497.8 134.8 L498.1 137.3 L498.5 139.0 L498.8 141.0 L499.1 139.5 L499.5 138.3 L499.8 136.8 L500.1 138.6 L500.5 140.4 L500.8 141.4 L501.1 140.0 L501.5 138.9 L501.8 137.8 L502.1 138.1 L502.4 140.9 L502.8 141.0 L503.1 140.1 L503.4 137.4 L503.8 135.6 L504.1 137.1 L504.4 138.4 L504.8 140.9 L505.1 140.0 L505.3 138.9 L505.6 137.7 L506.0 141.3 L506.3 142.5 L506.6 144.7 L507.0 141.6 L507.3 138.0 L507.6 136.7 L507.9 139.0 L508.3 139.7 L508.6 141.1 L508.9 138.0 L509.3 137.0 L509.6 134.8 L509.9 135.4 L510.3 140.1 L510.6 139.7 L510.9 138.4 L511.3 136.1 L511.6 133.7 L511.9 134.4 L512.2 134.0 L512.6 136.2 L512.9 134.5 L513.2 132.1 L513.6 131.5 L513.9 130.7 L514.2 128.0 L514.6 128.2 L515.2 129.8 L515.9 121.3 L516.6 114.9 L517.2 117.3 L517.9 113.4 L518.2 111.2 L518.5 110.8 L518.9 108.3 L519.5 118.7 L520.2 121.0 L520.9 130.1 L521.5 133.7 L522.2 139.8 L522.8 146.6 L523.2 149.9 L523.5 150.6 L523.8 153.7 L524.2 153.8 L524.5 156.2 L524.8 156.7 L525.2 159.1 L525.5 159.8 L525.8 162.3 L526.2 163.0 L526.5 164.1 L526.8 165.6 L527.5 167.3 L528.1 163.1 L528.5 160.3 L528.8 158.6 L529.1 156.8 L529.5 155.2 L529.8 152.4 L530.1 149.6 L530.4 148.9 L530.7 145.7 L531.0 143.8 L531.3 142.4 L531.6 140.5 L532.0 139.7 L532.3 138.6 L532.6 136.9 L532.9 136.7 L533.2 135.1 L533.5 136.0 L533.8 135.0 L534.1 135.5 L534.4 134.9 L534.8 134.1 L535.1 136.2 L535.4 137.0 L535.8 138.3 L536.1 137.1 L536.4 136.8 L536.8 136.0 L537.1 137.4 L537.4 138.6 L537.7 141.0 L538.1 139.2 L538.4 138.5 L538.7 138.6 L539.1 139.9 L539.4 141.3 L539.7 142.6 L540.1 141.5 L540.4 141.9 L540.7 140.2 L541.1 141.6 L541.4 143.1 L541.7 144.0 L542.0 144.4 L542.4 142.7 L542.7 142.8 L543.0 142.6 L543.3 145.1 L543.5 145.6 L543.8 146.2 L544.1 148.3 L544.4 148.5 L544.6 147.4 L544.9 146.4 L545.2 144.3 L545.5 143.1 L545.7 139.7 L546.0 139.1 L546.4 140.3 L546.7 140.3 L547.0 141.5 L547.7 136.4 L548.3 140.2 L549.0 137.3 L549.3 137.1 L549.7 137.5 L550.0 138.1 L550.7 132.2 L551.3 134.8 L552.0 124.8 L552.3 124.5 L552.6 123.7 L553.0 122.4 L553.3 123.8 L553.6 123.0 L554.0 124.8 L554.6 130.2 L555.3 136.6 L555.6 138.5 L555.8 139.6 L556.1 143.4 L556.8 143.1 L557.1 145.1 L557.3 147.5 L557.6 149.1 L557.9 150.6 L558.3 153.1 L558.6 154.9 L558.9 156.6 L559.3 158.8 L559.6 159.8 L560.3 154.9 L560.9 146.5 L561.2 144.6 L561.5 143.2 L561.8 142.3 L562.3 140.2 L562.9 139.6 L563.2 139.6 L563.6 141.6 L563.9 141.0 L564.2 140.3 L564.6 138.3 L564.9 137.0 L565.2 137.9 L565.6 138.5 L565.9 139.2 L566.2 138.0 L566.5 136.5 L566.9 135.3 L567.2 136.4 L567.5 137.2 L567.9 139.4 L568.2 137.9 L568.5 138.2 L568.9 136.1 L569.2 136.0 L569.5 135.3 L569.9 134.8 L570.2 135.3 L570.5 136.1 L570.9 136.7 L571.2 138.6 L571.5 139.7 L571.9 141.8 L572.2 142.9 L572.5 143.8 L572.8 144.7 L573.2 143.4 L573.5 142.6 L573.8 142.2 L574.1 142.9 L574.4 144.2 L574.7 146.1 L575.0 145.7 L575.3 142.7 L575.7 143.0 L576.0 143.7 L576.3 144.4 L576.7 145.6 L577.0 144.6 L577.3 144.3 L577.6 143.6 L578.0 143.5 L578.3 142.1 L578.6 141.3 L579.1 144.3 L579.4 143.4 L579.7 142.2 L580.0 141.7 L580.3 140.6 L580.6 140.2 L581.0 138.6 L581.2 139.1 L581.5 139.3 L581.8 140.7 L582.1 138.1 L582.4 136.3 L582.8 135.1 L583.1 132.8 L583.4 132.7 L583.8 130.5 L584.4 123.3 L585.1 114.2 L585.8 108.3 L586.1 107.9 L586.4 107.0 L586.8 106.6 L587.1 107.4 L587.4 106.0 L587.7 106.3 L588.1 107.4 L588.4 108.1 L588.7 108.3 L589.4 116.6 L590.1 126.7 L590.3 129.0 L590.6 132.3 L590.9 136.5 L591.4 139.7 L592.1 146.4 L592.4 148.1 L592.7 151.4 L593.0 153.2 L593.4 156.4 L593.7 157.2 L594.0 160.4 L594.4 163.0 L594.7 164.2 L595.0 166.5 L595.7 169.8 L596.0 168.7 L596.4 167.8 L596.7 167.3 L597.0 166.8 L597.3 165.6 L597.7 166.5 L598.0 164.2 L598.3 162.4 L598.7 161.5 L599.0 159.7 L599.3 158.5 L599.7 155.1 L599.9 153.8 L600.2 149.0 L600.5 146.2 L600.8 143.7 L601.2 143.1 L601.5 141.9 L601.8 140.5 L602.1 141.5 L602.5 139.4 L602.8 139.0 L603.1 137.5 L603.5 137.2 L603.8 138.8 L604.0 139.5 L604.3 140.3 L604.6 139.2 L604.9 139.8 L605.1 140.0 L605.4 138.3 L605.7 137.0 L606.0 135.4 L606.3 134.7 L606.6 133.7 L607.0 133.1 L607.3 134.0 L607.6 134.3 L607.9 135.5 L608.3 134.2 L608.6 135.0 L609.0 133.3 L609.3 135.2 L609.6 136.9 L610.0 138.4 L610.3 137.0 L610.6 137.4 L611.0 137.0 L611.3 138.8 L611.6 138.8 L612.0 140.9 L612.3 141.1 L612.6 139.8 L612.9 139.5 L613.3 140.7 L613.6 141.3 L613.9 142.4 L614.3 142.1 L614.6 142.3 L614.9 141.2 L615.3 142.6 L615.6 145.5 L615.9 146.3 L616.3 145.2 L616.6 144.4 L616.9 144.3 L617.2 144.1 L617.6 142.4 L617.9 142.4 L618.2 142.6 L618.6 143.8 L618.9 143.7 L619.2 141.6 L619.6 136.9 L619.9 135.1 L620.6 138.9 L621.2 133.2 L621.6 131.6 L621.9 130.4 L622.2 127.3 L622.5 127.2 L622.9 125.5 L623.2 124.8 L623.5 125.0 L623.9 125.7 L624.2 126.5 L624.9 130.4 L625.2 129.5 L625.5 129.8 L625.9 129.8 L626.5 138.0 L627.2 144.2 L627.5 145.9 L627.8 147.8 L628.2 149.8 L628.5 151.9 L628.8 152.5 L629.2 154.0 L629.8 156.5 L630.5 152.0 L631.2 151.3 L631.4 148.0 L631.7 147.0 L632.0 143.9 L632.5 142.1 L633.1 139.2 L633.5 139.1 L633.8 139.9 L634.1 140.7 L634.5 139.3 L634.8 137.9 L635.1 136.7 L635.8 141.1 L636.5 135.1 L636.8 136.2 L637.1 138.4 L637.5 140.4 L637.8 139.7 L638.1 136.0 L638.4 134.3 L638.8 133.9 L639.1 134.3 L639.4 133.3 L639.8 135.7 L640.1 137.8 L640.4 139.4 L641.1 133.4 L641.4 136.0 L641.7 136.4 L642.1 139.7 L642.4 138.1 L642.7 137.6 L643.1 136.3 L643.4 135.6 L643.7 135.1 L644.1 133.2 L644.4 135.5 L644.7 137.1 L645.1 139.4 L645.4 138.1 L645.7 136.6 L646.1 135.3 L646.4 136.9 L646.7 138.5 L647.1 139.6 L647.4 137.9 L647.7 136.2 L648.0 135.2 L648.7 138.5 L649.4 132.3 L650.0 140.6 L650.7 132.7 L651.4 136.2 L652.0 131.4 L652.7 132.3 L653.3 126.7 L654.0 123.3 L654.7 114.9 L655.3 116.2 L656.0 114.1 L656.7 118.5 L657.3 112.4 L658.0 121.0 L658.3 120.7 L658.6 122.0 L659.0 121.6 L659.6 127.2 L660.3 122.4 L661.0 127.3 L661.6 133.5 L662.3 140.3 L662.9 147.7 L663.3 149.7 L663.6 150.8 L663.9 151.6 L664.6 158.8 L665.3 162.3 L665.6 164.2 L665.9 165.5 L666.3 166.5 L666.9 164.0 L667.6 161.1 L667.9 160.2 L668.2 159.8 L668.6 158.5 L669.2 153.1 L669.9 147.6 L670.6 146.0 L670.9 145.3 L671.2 145.6 L671.6 145.6 L671.9 144.6 L672.2 145.0 L672.5 144.1 L672.9 142.7 L673.2 142.1 L673.5 141.1 L673.9 141.8 L674.2 142.8 L674.5 142.4 L674.9 140.2 L675.2 138.5 L675.5 137.3 L675.9 139.7 L676.2 140.4 L676.5 143.0 L676.9 141.2 L677.2 138.5 L677.5 136.7 L677.8 138.2 L678.2 138.7 L678.5 141.4 L678.8 139.9 L679.2 137.3 L679.5 135.6 L679.8 136.6 L680.2 139.9 L680.5 140.2 L681.2 132.3 L681.8 143.9 L682.5 134.9 L682.8 137.4 L683.1 141.2 L683.5 141.2 L683.8 139.3 L684.1 136.8 L684.5 134.8 L684.8 137.0 L685.1 140.1 L685.5 141.4 L685.8 139.9 L686.1 138.8 L686.5 137.0 L686.8 138.4 L687.1 138.6 L687.5 140.3 L687.8 138.6 L688.1 136.5 L688.4 135.1 L688.8 135.8 L689.1 138.5 L689.4 139.5 L689.8 138.2 L690.1 136.2 L690.4 134.4 L690.8 134.6 L691.1 134.8 L691.4 136.8 L692.1 132.8 L692.7 136.3 L693.1 134.6 L693.4 132.2 L693.7 130.2 L694.1 129.5 L694.4 130.9 L694.7 131.3 L695.4 126.5 L696.1 131.7 L696.7 136.3 L697.0 137.2 L697.4 140.0 L697.7 141.9 L698.0 142.8 L698.4 143.8 L698.7 144.5 L699.0 145.4 L699.4 146.2 L699.7 146.9 L700.4 148.1 L700.9 146.2 L701.4 145.4 L702.0 144.4 L702.3 142.5 L702.6 141.1 L703.0 139.6 L703.6 134.0 L704.3 140.3 L705.0 133.2 L705.6 139.8 L706.3 134.3 L706.6 135.9 L706.9 137.5 L707.3 138.6 L707.6 138.5 L707.9 134.9 L708.3 135.7 L708.6 136.5 L708.9 137.3 L709.3 138.2 L709.6 138.6 L709.9 137.4 L710.3 136.5 L710.6 136.4 L710.9 137.8 L711.3 138.2 L711.6 137.9 L711.9 138.0 L712.3 137.4 L712.6 137.2 L712.9 137.9 L713.2 138.2 L713.6 137.6 L713.9 136.9 L714.2 136.5 L714.6 136.7 L714.9 136.9 L715.2 138.2 L715.6 138.8 L715.9 139.4 L716.2 139.0 L716.6 138.7 L716.9 137.7 L717.2 137.4 L717.5 137.1 L717.9 136.9 L718.2 136.5 L718.5 136.6 L718.9 137.0 L719.2 137.4 L719.5 137.4 L719.9 136.0 L720.2 136.2 L720.5 136.2 L720.9 136.2 L721.2 137.4 L721.5 137.4 L721.8 137.7 L722.2 138.2 L722.5 137.6 L722.8 137.3 L723.2 137.4 L723.5 138.5 L723.8 138.5 L724.2 139.0 L724.5 138.7 L724.8 139.0 L725.2 137.8 L725.5 138.2 L725.8 138.1 L726.2 139.0 L726.5 138.8 L726.8 137.9 L727.2 137.8 L727.5 138.8 L727.8 138.4 L728.1 139.2 L728.5 138.6 L728.8 137.7 L729.1 137.8 L729.5 138.2 L729.8 138.3 L730.1 139.0 L730.5 138.5 L730.8 137.7 L731.1 137.4 L731.5 137.6 L731.8 138.9 L732.1 139.0 L732.4 138.9 L732.8 137.9 L733.1 137.4 L733.4 137.4 L733.8 137.9 L734.1 138.7 L734.4 138.3 L734.8 138.2 L735.1 136.9 L735.4 137.0 L735.8 137.4 L736.1 138.2 L736.4 137.4 L736.7 136.5 L737.1 136.5 L737.4 136.7 L737.7 137.8 L738.1 138.5 L738.4 138.7 L738.7 137.7 L739.1 137.4 L739.4 137.9 L739.7 138.4 L740.1 139.5 L740.4 139.1 L740.7 138.1 L741.1 137.4 L741.4 137.4 L741.7 138.2 L742.1 139.0 L742.4 138.3 L742.7 137.6 L743.0 136.5 L743.4 137.5 L743.7 138.4 L744.0 139.0 L744.4 137.9 L744.7 136.9 L745.0 135.7 L745.4 136.4 L745.7 138.1 L746.0 138.4 L746.4 137.0 L746.7 136.8 L747.0 136.4 L747.3 136.4 L747.7 134.7 L748.0 134.0 L748.3 137.4 L748.7 138.9 L749.0 141.5 L749.3 139.2 L749.7 136.6 L750.0 134.4 L750.3 135.3 L750.7 137.2 L751.0 139.6 L751.3 139.5 L751.6 137.2 L752.0 135.4"/>
<path d="M421.7 208.5 L422.0 209.7 L422.3 212.7 L422.6 214.7 L423.0 213.1 L423.3 211.6 L423.6 210.4 L424.0 212.4 L424.3 213.3 L424.6 214.7 L425.0 212.4 L425.3 211.5 L425.6 208.2 L426.0 209.7 L426.3 211.0 L426.6 213.6 L427.0 210.7 L427.3 209.1 L427.6 207.3 L427.9 209.9 L428.3 212.2 L428.6 213.9 L428.9 212.8 L429.3 211.4 L429.6 208.4 L429.9 210.9 L430.3 211.7 L430.6 212.8 L430.9 211.9 L431.3 209.7 L431.6 207.5 L431.9 209.0 L432.2 211.7 L432.6 213.1 L432.9 210.7 L433.2 208.1 L433.6 205.6 L433.9 209.3 L434.2 211.0 L434.6 213.0 L434.9 210.6 L435.2 208.8 L435.6 206.6 L435.9 209.8 L436.2 210.0 L436.6 212.0 L436.9 211.1 L437.2 209.7 L437.5 207.8 L437.9 209.6 L438.2 211.1 L438.5 212.3 L438.9 210.2 L439.2 208.4 L439.5 206.8 L439.9 206.4 L440.2 205.9 L440.5 205.6 L440.9 207.9 L441.2 210.1 L441.5 211.0 L441.9 209.5 L442.2 209.4 L442.5 208.0 L442.8 209.1 L443.2 210.9 L443.5 212.9 L443.8 210.7 L444.2 208.8 L444.5 206.5 L444.8 206.9 L445.2 206.2 L445.5 208.4 L445.8 211.3 L446.2 212.3 L446.5 214.4 L446.8 212.7 L447.1 212.2 L447.5 210.4 L448.1 216.4 L448.5 215.1 L448.8 213.6 L449.1 213.4 L449.5 212.4 L449.8 211.0 L450.1 209.4 L450.5 210.0 L450.8 212.2 L451.1 212.8 L451.5 211.1 L451.8 208.2 L452.1 206.8 L452.4 209.1 L452.8 209.3 L453.1 210.3 L453.8 203.1 L454.1 204.4 L454.4 207.2 L454.8 208.9 L455.1 206.6 L455.4 204.7 L455.8 201.6 L456.1 202.3 L456.4 205.2 L456.8 206.0 L457.1 204.6 L457.4 202.4 L457.7 199.8 L458.1 202.9 L458.4 206.1 L458.7 208.0 L459.4 202.3 L460.1 208.9 L460.4 208.0 L460.7 206.3 L461.1 204.8 L461.4 206.1 L461.7 209.0 L462.1 210.1 L462.4 209.8 L462.7 208.6 L463.0 207.5 L463.4 209.9 L463.7 212.6 L464.0 214.5 L464.4 212.2 L464.7 213.0 L465.0 212.0 L465.4 212.4 L465.7 216.1 L466.0 217.9 L466.4 217.4 L466.7 216.7 L467.0 214.4 L467.3 215.4 L467.7 217.2 L468.0 218.2 L468.3 217.9 L468.7 216.2 L469.0 217.1 L469.3 218.7 L469.7 219.4 L470.0 220.5 L470.7 221.4 L471.3 213.5 L471.7 212.3 L472.0 210.5 L472.3 209.8 L472.6 211.9 L473.0 214.0 L473.3 216.1 L473.6 215.0 L474.0 212.4 L474.3 210.2 L474.6 213.4 L475.0 212.1 L475.3 213.4 L475.6 211.8 L476.0 210.5 L476.3 208.9 L476.6 210.1 L476.9 213.2 L477.3 213.9 L477.6 213.2 L477.9 211.0 L478.3 210.6 L478.6 211.2 L478.9 212.2 L479.3 212.0 L479.6 209.2 L479.9 208.2 L480.3 206.0 L480.6 207.0 L480.9 209.7 L481.3 209.4 L481.6 208.1 L481.9 206.0 L482.3 204.5 L482.9 200.7 L483.6 206.5 L484.2 202.3 L484.9 209.1 L485.2 209.2 L485.6 211.2 L485.9 210.5 L486.2 211.8 L486.5 215.0 L486.9 215.2 L487.2 214.4 L487.5 215.4 L487.9 215.6 L488.2 216.8 L488.5 217.8 L488.9 219.6 L489.2 219.0 L489.5 219.2 L489.9 218.3 L490.2 218.7 L490.5 218.9 L490.9 220.5 L491.5 214.6 L491.9 216.2 L492.2 217.1 L492.5 217.0 L493.2 207.3 L493.5 208.6 L493.8 211.0 L494.2 212.5 L494.8 207.3 L495.2 206.9 L495.5 210.3 L495.8 210.8 L496.2 209.3 L496.5 209.0 L496.8 208.6 L497.1 211.0 L497.5 210.0 L497.8 211.8 L498.1 211.1 L498.5 209.7 L498.8 209.5 L499.1 209.5 L499.5 211.0 L499.8 212.7 L500.1 211.5 L500.5 209.1 L500.8 208.3 L501.1 209.7 L501.5 212.2 L501.8 213.5 L502.5 208.1 L502.8 210.8 L503.1 212.8 L503.4 216.4 L503.8 215.3 L504.1 212.5 L504.4 210.4 L505.1 210.1 L505.5 211.6 L505.8 210.8 L506.1 212.0 L506.5 212.7 L506.8 210.5 L507.1 210.9 L507.4 208.9 L507.8 208.8 L508.1 208.1 L508.4 209.0 L508.8 210.5 L509.1 211.5 L509.4 208.8 L509.8 207.1 L510.1 204.3 L510.8 201.5 L511.4 208.9 L511.8 208.9 L512.1 206.9 L512.4 206.4 L512.7 205.0 L513.1 205.0 L513.4 204.6 L513.7 204.0 L514.1 202.9 L514.4 201.2 L514.7 198.7 L515.0 195.9 L515.2 194.0 L515.9 197.3 L516.6 180.7 L517.2 174.1 L517.9 179.7 L518.5 178.1 L519.2 173.3 L519.9 181.6 L520.5 184.9 L521.2 193.4 L521.5 197.7 L521.7 202.6 L522.0 206.5 L522.7 215.0 L523.0 216.6 L523.2 219.9 L523.5 221.1 L524.2 229.8 L524.5 230.9 L524.8 232.0 L525.2 232.8 L525.5 233.5 L525.8 235.9 L526.2 236.2 L526.5 237.1 L526.8 237.1 L527.2 238.9 L527.5 240.0 L527.8 239.8 L528.1 240.6 L528.5 239.6 L528.8 237.4 L529.1 235.6 L529.5 233.0 L529.8 231.3 L530.1 228.8 L530.8 221.5 L531.5 224.8 L532.1 216.6 L532.4 213.4 L532.7 210.3 L532.9 207.7 L533.6 202.8 L533.9 199.1 L534.2 195.9 L534.4 191.5 L535.1 204.2 L535.8 202.1 L536.1 203.4 L536.4 204.5 L536.8 205.8 L537.1 206.2 L537.4 207.6 L537.7 207.9 L538.1 208.6 L538.4 209.6 L538.7 209.5 L539.1 211.6 L539.4 214.6 L539.7 215.2 L540.1 215.4 L540.4 217.5 L540.7 218.7 L541.1 219.3 L541.4 219.7 L541.7 219.3 L542.0 219.0 L542.4 219.8 L542.7 221.1 L543.0 221.8 L543.4 223.1 L543.7 223.2 L544.4 219.1 L545.0 220.4 L545.3 218.9 L545.6 215.2 L545.9 213.8 L546.2 214.1 L546.6 214.9 L547.0 214.3 L547.3 213.5 L547.7 211.9 L548.0 211.6 L548.3 211.9 L548.7 212.3 L549.0 213.8 L549.3 213.5 L549.7 211.7 L550.0 210.7 L550.3 209.2 L550.7 207.6 L551.0 206.8 L551.3 205.2 L551.6 203.3 L552.0 202.3 L552.3 200.5 L552.6 199.9 L553.0 198.6 L553.3 197.2 L553.6 196.4 L554.0 194.8 L554.6 192.3 L555.3 196.6 L556.0 200.0 L556.6 206.0 L557.3 210.5 L557.9 218.2 L558.6 220.7 L559.3 224.0 L559.9 223.2 L560.6 220.4 L561.3 216.8 L561.9 211.2 L562.2 210.4 L562.6 210.1 L562.9 208.3 L563.2 207.6 L563.6 207.0 L563.9 206.0 L564.2 205.0 L564.6 203.2 L564.9 202.5 L565.2 202.7 L565.6 201.1 L565.9 200.9 L566.2 198.9 L566.5 199.5 L566.9 197.6 L567.2 198.7 L567.5 198.7 L567.9 199.8 L568.2 199.3 L568.5 198.3 L568.9 196.6 L569.5 196.5 L570.2 202.0 L570.5 203.6 L570.9 203.7 L571.2 205.6 L571.9 212.2 L572.2 213.1 L572.5 213.0 L572.8 214.4 L573.2 213.8 L573.5 213.6 L573.8 213.7 L574.2 214.0 L574.5 215.6 L574.8 216.1 L575.1 214.4 L575.4 213.9 L575.7 212.2 L576.2 218.2 L576.8 213.8 L577.1 214.0 L577.5 213.5 L577.8 213.9 L578.1 213.4 L578.5 213.1 L578.8 212.1 L579.2 213.8 L579.6 214.1 L580.0 215.3 L580.5 214.7 L581.1 209.3 L581.5 211.0 L581.8 210.8 L582.1 211.1 L582.8 206.7 L583.4 201.6 L584.1 194.8 L584.8 190.0 L585.4 183.0 L586.1 175.9 L586.8 171.6 L587.1 172.6 L587.4 171.2 L587.7 172.1 L588.4 168.3 L589.1 167.5 L589.7 176.6 L590.4 184.8 L591.1 192.6 L591.7 201.1 L592.4 206.7 L593.0 210.1 L593.7 217.8 L594.4 226.6 L595.0 235.4 L595.7 241.4 L596.4 245.5 L597.0 248.0 L597.7 243.0 L598.3 239.5 L599.0 233.4 L599.7 224.4 L600.3 223.5 L601.0 212.7 L601.3 211.3 L601.6 211.8 L602.0 210.2 L602.3 210.1 L602.6 210.5 L603.0 210.2 L603.3 209.5 L603.6 206.4 L604.0 205.8 L604.3 206.6 L604.6 208.1 L605.0 207.4 L605.3 206.6 L605.6 204.9 L606.0 203.5 L606.3 202.9 L606.6 201.7 L607.0 200.6 L607.3 199.8 L607.6 198.7 L607.9 196.5 L608.3 198.5 L608.6 201.1 L609.0 203.0 L609.3 203.5 L609.6 204.0 L610.0 203.8 L610.3 205.6 L610.6 205.8 L611.0 207.7 L611.3 209.3 L611.6 209.9 L612.0 210.2 L612.3 209.1 L612.6 209.0 L612.9 208.7 L613.3 208.6 L613.6 210.2 L613.9 211.2 L614.3 212.0 L614.6 211.6 L614.9 212.9 L615.3 214.2 L615.6 215.8 L615.9 218.1 L616.3 218.4 L616.6 219.0 L616.9 220.2 L617.2 218.7 L617.6 218.9 L617.9 217.7 L618.2 217.0 L618.6 216.1 L618.9 215.9 L619.2 216.3 L619.6 215.2 L619.9 215.3 L620.2 214.0 L620.6 210.9 L620.9 209.8 L621.6 205.3 L621.9 206.8 L622.2 206.3 L622.5 207.2 L623.2 200.5 L623.5 198.9 L623.9 198.7 L624.2 197.4 L624.5 194.7 L624.9 192.9 L625.2 191.5 L625.9 199.0 L626.5 205.9 L627.2 209.2 L627.8 213.3 L628.2 215.2 L628.5 216.5 L628.8 218.6 L629.2 219.5 L629.5 220.1 L629.8 220.7 L630.2 221.1 L630.5 221.3 L630.8 221.5 L631.2 223.3 L631.5 224.3 L631.8 225.7 L632.5 214.6 L632.8 213.5 L633.1 211.5 L633.5 209.0 L633.8 207.3 L634.1 206.9 L634.5 207.4 L635.1 210.2 L635.8 205.6 L636.1 207.0 L636.5 206.2 L636.8 206.8 L637.1 206.1 L637.4 205.0 L637.8 204.1 L638.4 200.1 L639.1 203.5 L639.4 201.4 L639.8 200.2 L640.1 196.5 L640.8 201.5 L641.1 200.1 L641.4 199.6 L641.8 198.5 L642.1 200.2 L642.4 201.3 L642.7 203.7 L643.4 205.5 L643.7 202.8 L644.1 201.0 L644.4 199.0 L644.7 199.5 L645.1 200.3 L645.4 200.6 L645.7 201.1 L646.1 202.9 L646.4 205.5 L646.7 207.9 L647.0 208.2 L647.4 209.7 L648.0 214.0 L648.7 210.0 L649.4 204.9 L649.7 207.5 L650.0 208.8 L650.4 211.2 L650.7 210.2 L651.0 211.3 L651.4 209.4 L651.7 208.2 L652.0 207.8 L652.4 207.8 L653.0 204.1 L653.7 205.6 L654.3 196.6 L654.7 195.6 L655.0 193.7 L655.3 192.2 L656.0 185.7 L656.7 180.8 L657.3 186.4 L657.6 185.1 L658.0 185.7 L658.3 185.2 L659.0 186.9 L659.6 191.3 L660.3 196.8 L661.0 195.7 L661.6 201.9 L662.3 207.1 L662.9 213.1 L663.6 220.1 L664.3 225.1 L664.9 230.4 L665.3 232.0 L665.6 231.8 L665.9 233.9 L666.3 234.7 L666.6 236.6 L666.9 237.3 L667.2 237.3 L667.6 233.7 L667.9 233.9 L668.2 232.3 L668.6 231.4 L668.9 230.1 L669.2 228.1 L669.6 226.6 L669.9 225.6 L670.2 223.9 L670.6 223.1 L670.9 221.3 L671.2 219.6 L671.5 219.7 L671.9 218.1 L672.2 217.4 L672.5 216.2 L672.9 214.5 L673.2 214.6 L673.5 212.6 L673.9 212.0 L674.5 208.5 L675.2 211.9 L675.9 206.7 L676.5 204.0 L677.2 209.9 L677.8 214.7 L678.5 209.8 L679.2 206.4 L679.8 213.0 L680.5 207.9 L681.2 205.0 L681.8 212.1 L682.5 206.9 L683.1 204.8 L683.8 209.8 L684.5 214.7 L685.1 210.7 L685.8 207.5 L686.5 213.8 L687.1 209.9 L687.8 205.6 L688.4 210.0 L689.1 206.0 L689.8 210.6 L690.4 205.2 L691.1 209.5 L691.8 204.5 L692.4 203.9 L693.1 206.2 L693.7 200.2 L694.4 199.0 L695.1 199.2 L695.7 204.2 L696.4 201.8 L697.1 205.6 L697.7 209.2 L698.4 210.8 L699.0 208.5 L699.7 213.6 L700.4 218.1 L700.9 215.2 L701.4 213.0 L702.0 209.5 L702.3 210.6 L702.6 210.8 L703.0 210.6 L703.3 209.0 L703.6 207.6 L704.0 206.5 L704.6 212.3 L705.3 205.3 L706.0 208.6 L706.6 200.7 L707.3 207.8 L707.9 203.5 L708.6 209.0 L709.3 204.5 L709.9 208.8 L710.6 203.2 L711.3 206.8 L711.9 204.7 L712.6 208.1 L713.2 201.8 L713.9 206.1 L714.6 201.0 L715.2 205.5 L715.9 200.3 L716.6 203.6 L717.2 198.5 L717.9 200.8 L718.5 202.8 L719.2 197.4 L719.9 198.2 L720.5 204.5 L721.2 201.2 L721.9 204.9 L722.5 205.4 L723.2 209.2 L723.8 209.7 L724.5 212.5 L725.2 213.1 L725.8 216.8 L726.5 214.6 L727.2 218.6 L727.8 219.8 L728.5 214.7 L729.1 215.9 L729.8 210.9 L730.5 213.4 L731.1 209.4 L731.8 212.8 L732.5 206.6 L733.1 212.0 L733.8 206.5 L734.4 211.2 L735.1 206.9 L735.8 211.5 L736.4 204.9 L737.1 211.2 L737.7 205.9 L738.4 210.1 L739.1 207.9 L739.7 212.3 L740.4 209.0 L741.1 206.9 L741.7 211.1 L742.4 206.1 L743.0 210.2 L743.7 205.0 L744.4 208.2 L745.0 210.2 L745.7 207.2 L746.4 210.3 L747.0 206.1 L747.7 209.2 L748.3 205.0 L749.0 208.1 L749.7 212.3 L750.3 208.0 L751.0 210.0 L751.3 208.8 L751.6 209.0 L752.0 208.9"/>
</g>
<text transform="translate(1.5 15.7) scale(1.000 1)" font-size="18.9" text-anchor="start" letter-spacing="2.3">a)</text>
<text transform="translate(382.2 14.8) scale(1.000 1)" font-size="19.2" text-anchor="start" letter-spacing="1.8">b)</text>
<text transform="translate(87.6 273.8) scale(1.045 1)" font-size="14.1" text-anchor="middle">3460</text>
<text transform="translate(146.2 273.8) scale(1.045 1)" font-size="14.1" text-anchor="middle">3470</text>
<text transform="translate(204.3 273.8) scale(1.045 1)" font-size="14.1" text-anchor="middle">3480</text>
<text transform="translate(262.8 273.8) scale(1.045 1)" font-size="14.1" text-anchor="middle">3490</text>
<text transform="translate(320.8 273.8) scale(1.045 1)" font-size="14.1" text-anchor="middle">3500</text>
<text transform="translate(444.3 273.8) scale(1.065 1)" font-size="14.1" text-anchor="middle">3450</text>
<text transform="translate(491.6 273.8) scale(1.065 1)" font-size="14.1" text-anchor="middle">3460</text>
<text transform="translate(538.8 273.8) scale(1.065 1)" font-size="14.1" text-anchor="middle">3470</text>
<text transform="translate(586.1 273.8) scale(1.065 1)" font-size="14.1" text-anchor="middle">3480</text>
<text transform="translate(633.4 273.8) scale(1.065 1)" font-size="14.1" text-anchor="middle">3490</text>
<text transform="translate(680.7 273.8) scale(1.065 1)" font-size="14.1" text-anchor="middle">3500</text>
<text transform="translate(727.9 273.8) scale(1.065 1)" font-size="14.1" text-anchor="middle">3510</text>
<text transform="translate(218.4 296.0) scale(1.080 1)" font-size="15.0" text-anchor="middle">Magnetic field / G</text>
<text transform="translate(586.5 295.9) scale(1.090 1)" font-size="15.0" text-anchor="middle">Magnetic field / G</text>
<text transform="translate(19.9 122.3) rotate(-90) scale(1 1.08)" font-size="15.3" text-anchor="middle">Relative signal</text>
<text transform="translate(399.5 121.9) rotate(-90) scale(1 1.10)" font-size="15.3" text-anchor="middle">Relative signal</text>
<text transform="translate(55.8 53.1) scale(1.000 1)" font-size="13.0">H<tspan dy="2.8" font-size="8.8">2</tspan><tspan dy="-2.8" font-size="1">&#8203;</tspan>O<tspan dy="2.8" font-size="8.8">2</tspan><tspan dy="-2.8" font-size="1">&#8203;</tspan> +O<tspan dy="2.8" font-size="8.8">3</tspan><tspan dy="-2.8" font-size="1">&#8203;</tspan></text>
<text transform="translate(69.3 129.0) scale(1.000 1)" font-size="13.0">O<tspan dy="2.8" font-size="8.8">3</tspan><tspan dy="-2.8" font-size="1">&#8203;</tspan></text>
<text transform="translate(58.8 197.1) scale(1.000 1)" font-size="13.0">H<tspan dy="2.8" font-size="8.8">2</tspan><tspan dy="-2.8" font-size="1">&#8203;</tspan>O<tspan dy="2.8" font-size="8.8">2</tspan><tspan dy="-2.8" font-size="1">&#8203;</tspan></text>
<text transform="translate(432.2 55.0) scale(1.000 1)" font-size="13.0">H<tspan dy="2.8" font-size="8.8">2</tspan><tspan dy="-2.8" font-size="1">&#8203;</tspan>O<tspan dy="2.8" font-size="8.8">2</tspan><tspan dy="-2.8" font-size="1">&#8203;</tspan> +O<tspan dy="2.8" font-size="8.8">3</tspan><tspan dy="-2.8" font-size="1">&#8203;</tspan></text>
<text transform="translate(450.5 124.3) scale(1.000 1)" font-size="13.0">O<tspan dy="2.8" font-size="8.8">3</tspan><tspan dy="-2.8" font-size="1">&#8203;</tspan></text>
<text transform="translate(443.9 191.2) scale(1.000 1)" font-size="13.0">H<tspan dy="2.8" font-size="8.8">2</tspan><tspan dy="-2.8" font-size="1">&#8203;</tspan>O<tspan dy="2.8" font-size="8.8">2</tspan><tspan dy="-2.8" font-size="1">&#8203;</tspan></text>
</svg></body></html>
